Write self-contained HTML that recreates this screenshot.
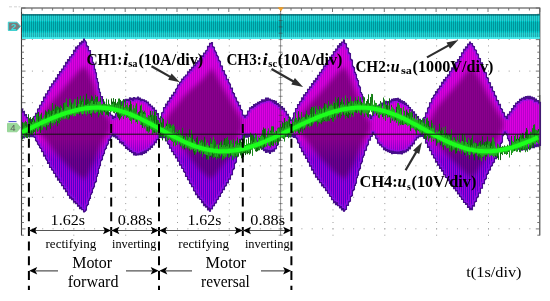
<!DOCTYPE html><html><head><meta charset="utf-8"><style>html,body{margin:0;padding:0;background:#fff;}svg{display:block;}.b{font-family:"Liberation Serif","Times New Roman",serif;font-weight:bold;fill:#000;}.r{font-family:"Liberation Serif","Times New Roman",serif;fill:#000;}</style></head><body><svg width="550" height="301" viewBox="0 0 550 301"><defs><pattern id="mg" width="2" height="4" patternUnits="userSpaceOnUse"><rect width="2" height="4" fill="#de00e0"/><rect x="1" width="1" height="4" fill="#b800cc"/></pattern><pattern id="cy" width="2" height="4" patternUnits="userSpaceOnUse"><rect width="2" height="4" fill="#06d2d2"/><rect x="1" width="1" height="4" fill="#00a0a6"/></pattern></defs><rect width="550" height="301" fill="#fff"/><path d="M73.3 14.3h1M73.3 20.6h1M73.3 26.9h1M73.3 33.2h1M73.3 39.6h1M73.3 45.9h1M73.3 52.2h1M73.3 58.5h1M73.3 64.8h1M73.3 71.1h1M73.3 77.4h1M73.3 83.7h1M73.3 90.0h1M73.3 96.3h1M73.3 102.7h1M73.3 109.0h1M73.3 115.3h1M73.3 121.6h1M73.3 127.9h1M73.3 134.2h1M73.3 140.5h1M73.3 146.8h1M73.3 153.1h1M73.3 159.4h1M73.3 165.8h1M73.3 172.1h1M73.3 178.4h1M73.3 184.7h1M73.3 191.0h1M73.3 197.3h1M73.3 203.6h1M73.3 209.9h1M73.3 216.2h1M73.3 222.5h1M73.3 228.9h1M73.3 235.2h1M125.2 14.3h1M125.2 20.6h1M125.2 26.9h1M125.2 33.2h1M125.2 39.6h1M125.2 45.9h1M125.2 52.2h1M125.2 58.5h1M125.2 64.8h1M125.2 71.1h1M125.2 77.4h1M125.2 83.7h1M125.2 90.0h1M125.2 96.3h1M125.2 102.7h1M125.2 109.0h1M125.2 115.3h1M125.2 121.6h1M125.2 127.9h1M125.2 134.2h1M125.2 140.5h1M125.2 146.8h1M125.2 153.1h1M125.2 159.4h1M125.2 165.8h1M125.2 172.1h1M125.2 178.4h1M125.2 184.7h1M125.2 191.0h1M125.2 197.3h1M125.2 203.6h1M125.2 209.9h1M125.2 216.2h1M125.2 222.5h1M125.2 228.9h1M125.2 235.2h1M177.0 14.3h1M177.0 20.6h1M177.0 26.9h1M177.0 33.2h1M177.0 39.6h1M177.0 45.9h1M177.0 52.2h1M177.0 58.5h1M177.0 64.8h1M177.0 71.1h1M177.0 77.4h1M177.0 83.7h1M177.0 90.0h1M177.0 96.3h1M177.0 102.7h1M177.0 109.0h1M177.0 115.3h1M177.0 121.6h1M177.0 127.9h1M177.0 134.2h1M177.0 140.5h1M177.0 146.8h1M177.0 153.1h1M177.0 159.4h1M177.0 165.8h1M177.0 172.1h1M177.0 178.4h1M177.0 184.7h1M177.0 191.0h1M177.0 197.3h1M177.0 203.6h1M177.0 209.9h1M177.0 216.2h1M177.0 222.5h1M177.0 228.9h1M177.0 235.2h1M228.8 14.3h1M228.8 20.6h1M228.8 26.9h1M228.8 33.2h1M228.8 39.6h1M228.8 45.9h1M228.8 52.2h1M228.8 58.5h1M228.8 64.8h1M228.8 71.1h1M228.8 77.4h1M228.8 83.7h1M228.8 90.0h1M228.8 96.3h1M228.8 102.7h1M228.8 109.0h1M228.8 115.3h1M228.8 121.6h1M228.8 127.9h1M228.8 134.2h1M228.8 140.5h1M228.8 146.8h1M228.8 153.1h1M228.8 159.4h1M228.8 165.8h1M228.8 172.1h1M228.8 178.4h1M228.8 184.7h1M228.8 191.0h1M228.8 197.3h1M228.8 203.6h1M228.8 209.9h1M228.8 216.2h1M228.8 222.5h1M228.8 228.9h1M228.8 235.2h1M332.5 14.3h1M332.5 20.6h1M332.5 26.9h1M332.5 33.2h1M332.5 39.6h1M332.5 45.9h1M332.5 52.2h1M332.5 58.5h1M332.5 64.8h1M332.5 71.1h1M332.5 77.4h1M332.5 83.7h1M332.5 90.0h1M332.5 96.3h1M332.5 102.7h1M332.5 109.0h1M332.5 115.3h1M332.5 121.6h1M332.5 127.9h1M332.5 134.2h1M332.5 140.5h1M332.5 146.8h1M332.5 153.1h1M332.5 159.4h1M332.5 165.8h1M332.5 172.1h1M332.5 178.4h1M332.5 184.7h1M332.5 191.0h1M332.5 197.3h1M332.5 203.6h1M332.5 209.9h1M332.5 216.2h1M332.5 222.5h1M332.5 228.9h1M332.5 235.2h1M384.3 14.3h1M384.3 20.6h1M384.3 26.9h1M384.3 33.2h1M384.3 39.6h1M384.3 45.9h1M384.3 52.2h1M384.3 58.5h1M384.3 64.8h1M384.3 71.1h1M384.3 77.4h1M384.3 83.7h1M384.3 90.0h1M384.3 96.3h1M384.3 102.7h1M384.3 109.0h1M384.3 115.3h1M384.3 121.6h1M384.3 127.9h1M384.3 134.2h1M384.3 140.5h1M384.3 146.8h1M384.3 153.1h1M384.3 159.4h1M384.3 165.8h1M384.3 172.1h1M384.3 178.4h1M384.3 184.7h1M384.3 191.0h1M384.3 197.3h1M384.3 203.6h1M384.3 209.9h1M384.3 216.2h1M384.3 222.5h1M384.3 228.9h1M384.3 235.2h1M436.1 14.3h1M436.1 20.6h1M436.1 26.9h1M436.1 33.2h1M436.1 39.6h1M436.1 45.9h1M436.1 52.2h1M436.1 58.5h1M436.1 64.8h1M436.1 71.1h1M436.1 77.4h1M436.1 83.7h1M436.1 90.0h1M436.1 96.3h1M436.1 102.7h1M436.1 109.0h1M436.1 115.3h1M436.1 121.6h1M436.1 127.9h1M436.1 134.2h1M436.1 140.5h1M436.1 146.8h1M436.1 153.1h1M436.1 159.4h1M436.1 165.8h1M436.1 172.1h1M436.1 178.4h1M436.1 184.7h1M436.1 191.0h1M436.1 197.3h1M436.1 203.6h1M436.1 209.9h1M436.1 216.2h1M436.1 222.5h1M436.1 228.9h1M436.1 235.2h1M488.0 14.3h1M488.0 20.6h1M488.0 26.9h1M488.0 33.2h1M488.0 39.6h1M488.0 45.9h1M488.0 52.2h1M488.0 58.5h1M488.0 64.8h1M488.0 71.1h1M488.0 77.4h1M488.0 83.7h1M488.0 90.0h1M488.0 96.3h1M488.0 102.7h1M488.0 109.0h1M488.0 115.3h1M488.0 121.6h1M488.0 127.9h1M488.0 134.2h1M488.0 140.5h1M488.0 146.8h1M488.0 153.1h1M488.0 159.4h1M488.0 165.8h1M488.0 172.1h1M488.0 178.4h1M488.0 184.7h1M488.0 191.0h1M488.0 197.3h1M488.0 203.6h1M488.0 209.9h1M488.0 216.2h1M488.0 222.5h1M488.0 228.9h1M488.0 235.2h1M31.9 39.5h1M42.2 39.5h1M52.6 39.5h1M63.0 39.5h1M73.3 39.5h1M83.7 39.5h1M94.1 39.5h1M104.4 39.5h1M114.8 39.5h1M125.2 39.5h1M135.5 39.5h1M145.9 39.5h1M156.3 39.5h1M166.6 39.5h1M177.0 39.5h1M187.4 39.5h1M197.7 39.5h1M208.1 39.5h1M218.5 39.5h1M228.8 39.5h1M239.2 39.5h1M249.6 39.5h1M259.9 39.5h1M270.3 39.5h1M280.6 39.5h1M291.0 39.5h1M301.4 39.5h1M311.7 39.5h1M322.1 39.5h1M332.5 39.5h1M342.8 39.5h1M353.2 39.5h1M363.6 39.5h1M373.9 39.5h1M384.3 39.5h1M394.7 39.5h1M405.0 39.5h1M415.4 39.5h1M425.8 39.5h1M436.1 39.5h1M446.5 39.5h1M456.9 39.5h1M467.2 39.5h1M477.6 39.5h1M488.0 39.5h1M498.3 39.5h1M508.7 39.5h1M519.1 39.5h1M529.4 39.5h1M31.9 71.1h1M42.2 71.1h1M52.6 71.1h1M63.0 71.1h1M73.3 71.1h1M83.7 71.1h1M94.1 71.1h1M104.4 71.1h1M114.8 71.1h1M125.2 71.1h1M135.5 71.1h1M145.9 71.1h1M156.3 71.1h1M166.6 71.1h1M177.0 71.1h1M187.4 71.1h1M197.7 71.1h1M208.1 71.1h1M218.5 71.1h1M228.8 71.1h1M239.2 71.1h1M249.6 71.1h1M259.9 71.1h1M270.3 71.1h1M280.6 71.1h1M291.0 71.1h1M301.4 71.1h1M311.7 71.1h1M322.1 71.1h1M332.5 71.1h1M342.8 71.1h1M353.2 71.1h1M363.6 71.1h1M373.9 71.1h1M384.3 71.1h1M394.7 71.1h1M405.0 71.1h1M415.4 71.1h1M425.8 71.1h1M436.1 71.1h1M446.5 71.1h1M456.9 71.1h1M467.2 71.1h1M477.6 71.1h1M488.0 71.1h1M498.3 71.1h1M508.7 71.1h1M519.1 71.1h1M529.4 71.1h1M31.9 102.7h1M42.2 102.7h1M52.6 102.7h1M63.0 102.7h1M73.3 102.7h1M83.7 102.7h1M94.1 102.7h1M104.4 102.7h1M114.8 102.7h1M125.2 102.7h1M135.5 102.7h1M145.9 102.7h1M156.3 102.7h1M166.6 102.7h1M177.0 102.7h1M187.4 102.7h1M197.7 102.7h1M208.1 102.7h1M218.5 102.7h1M228.8 102.7h1M239.2 102.7h1M249.6 102.7h1M259.9 102.7h1M270.3 102.7h1M280.6 102.7h1M291.0 102.7h1M301.4 102.7h1M311.7 102.7h1M322.1 102.7h1M332.5 102.7h1M342.8 102.7h1M353.2 102.7h1M363.6 102.7h1M373.9 102.7h1M384.3 102.7h1M394.7 102.7h1M405.0 102.7h1M415.4 102.7h1M425.8 102.7h1M436.1 102.7h1M446.5 102.7h1M456.9 102.7h1M467.2 102.7h1M477.6 102.7h1M488.0 102.7h1M498.3 102.7h1M508.7 102.7h1M519.1 102.7h1M529.4 102.7h1M31.9 165.8h1M42.2 165.8h1M52.6 165.8h1M63.0 165.8h1M73.3 165.8h1M83.7 165.8h1M94.1 165.8h1M104.4 165.8h1M114.8 165.8h1M125.2 165.8h1M135.5 165.8h1M145.9 165.8h1M156.3 165.8h1M166.6 165.8h1M177.0 165.8h1M187.4 165.8h1M197.7 165.8h1M208.1 165.8h1M218.5 165.8h1M228.8 165.8h1M239.2 165.8h1M249.6 165.8h1M259.9 165.8h1M270.3 165.8h1M280.6 165.8h1M291.0 165.8h1M301.4 165.8h1M311.7 165.8h1M322.1 165.8h1M332.5 165.8h1M342.8 165.8h1M353.2 165.8h1M363.6 165.8h1M373.9 165.8h1M384.3 165.8h1M394.7 165.8h1M405.0 165.8h1M415.4 165.8h1M425.8 165.8h1M436.1 165.8h1M446.5 165.8h1M456.9 165.8h1M467.2 165.8h1M477.6 165.8h1M488.0 165.8h1M498.3 165.8h1M508.7 165.8h1M519.1 165.8h1M529.4 165.8h1M31.9 197.3h1M42.2 197.3h1M52.6 197.3h1M63.0 197.3h1M73.3 197.3h1M83.7 197.3h1M94.1 197.3h1M104.4 197.3h1M114.8 197.3h1M125.2 197.3h1M135.5 197.3h1M145.9 197.3h1M156.3 197.3h1M166.6 197.3h1M177.0 197.3h1M187.4 197.3h1M197.7 197.3h1M208.1 197.3h1M218.5 197.3h1M228.8 197.3h1M239.2 197.3h1M249.6 197.3h1M259.9 197.3h1M270.3 197.3h1M280.6 197.3h1M291.0 197.3h1M301.4 197.3h1M311.7 197.3h1M322.1 197.3h1M332.5 197.3h1M342.8 197.3h1M353.2 197.3h1M363.6 197.3h1M373.9 197.3h1M384.3 197.3h1M394.7 197.3h1M405.0 197.3h1M415.4 197.3h1M425.8 197.3h1M436.1 197.3h1M446.5 197.3h1M456.9 197.3h1M467.2 197.3h1M477.6 197.3h1M488.0 197.3h1M498.3 197.3h1M508.7 197.3h1M519.1 197.3h1M529.4 197.3h1M31.9 228.8h1M42.2 228.8h1M52.6 228.8h1M63.0 228.8h1M73.3 228.8h1M83.7 228.8h1M94.1 228.8h1M104.4 228.8h1M114.8 228.8h1M125.2 228.8h1M135.5 228.8h1M145.9 228.8h1M156.3 228.8h1M166.6 228.8h1M177.0 228.8h1M187.4 228.8h1M197.7 228.8h1M208.1 228.8h1M218.5 228.8h1M228.8 228.8h1M239.2 228.8h1M249.6 228.8h1M259.9 228.8h1M270.3 228.8h1M280.6 228.8h1M291.0 228.8h1M301.4 228.8h1M311.7 228.8h1M322.1 228.8h1M332.5 228.8h1M342.8 228.8h1M353.2 228.8h1M363.6 228.8h1M373.9 228.8h1M384.3 228.8h1M394.7 228.8h1M405.0 228.8h1M415.4 228.8h1M425.8 228.8h1M436.1 228.8h1M446.5 228.8h1M456.9 228.8h1M467.2 228.8h1M477.6 228.8h1M488.0 228.8h1M498.3 228.8h1M508.7 228.8h1M519.1 228.8h1M529.4 228.8h1" stroke="#9a9a9a" stroke-width="1" fill="none"/><path d="M21.5 235.5V8.0H539.8V235.5" stroke="#3c3c3c" stroke-width="1.1" fill="none"/><path d="M21.5 8.0h4M539.8 8.0h-4M21.5 14.3h2.5M539.8 14.3h-2.5M21.5 20.6h2.5M539.8 20.6h-2.5M21.5 26.9h2.5M539.8 26.9h-2.5M21.5 33.2h2.5M539.8 33.2h-2.5M21.5 39.6h4M539.8 39.6h-4M21.5 45.9h2.5M539.8 45.9h-2.5M21.5 52.2h2.5M539.8 52.2h-2.5M21.5 58.5h2.5M539.8 58.5h-2.5M21.5 64.8h2.5M539.8 64.8h-2.5M21.5 71.1h4M539.8 71.1h-4M21.5 77.4h2.5M539.8 77.4h-2.5M21.5 83.7h2.5M539.8 83.7h-2.5M21.5 90.0h2.5M539.8 90.0h-2.5M21.5 96.3h2.5M539.8 96.3h-2.5M21.5 102.7h4M539.8 102.7h-4M21.5 109.0h2.5M539.8 109.0h-2.5M21.5 115.3h2.5M539.8 115.3h-2.5M21.5 121.6h2.5M539.8 121.6h-2.5M21.5 127.9h2.5M539.8 127.9h-2.5M21.5 134.2h4M539.8 134.2h-4M21.5 140.5h2.5M539.8 140.5h-2.5M21.5 146.8h2.5M539.8 146.8h-2.5M21.5 153.1h2.5M539.8 153.1h-2.5M21.5 159.4h2.5M539.8 159.4h-2.5M21.5 165.8h4M539.8 165.8h-4M21.5 172.1h2.5M539.8 172.1h-2.5M21.5 178.4h2.5M539.8 178.4h-2.5M21.5 184.7h2.5M539.8 184.7h-2.5M21.5 191.0h2.5M539.8 191.0h-2.5M21.5 197.3h4M539.8 197.3h-4M21.5 203.6h2.5M539.8 203.6h-2.5M21.5 209.9h2.5M539.8 209.9h-2.5M21.5 216.2h2.5M539.8 216.2h-2.5M21.5 222.5h2.5M539.8 222.5h-2.5M21.5 228.9h4M539.8 228.9h-4M21.5 235.2h2.5M539.8 235.2h-2.5M21.5 8.0v4M31.9 8.0v2.5M42.2 8.0v2.5M52.6 8.0v2.5M63.0 8.0v2.5M73.3 8.0v4M83.7 8.0v2.5M94.1 8.0v2.5M104.4 8.0v2.5M114.8 8.0v2.5M125.2 8.0v4M135.5 8.0v2.5M145.9 8.0v2.5M156.3 8.0v2.5M166.6 8.0v2.5M177.0 8.0v4M187.4 8.0v2.5M197.7 8.0v2.5M208.1 8.0v2.5M218.5 8.0v2.5M228.8 8.0v4M239.2 8.0v2.5M249.6 8.0v2.5M259.9 8.0v2.5M270.3 8.0v2.5M280.6 8.0v4M291.0 8.0v2.5M301.4 8.0v2.5M311.7 8.0v2.5M322.1 8.0v2.5M332.5 8.0v4M342.8 8.0v2.5M353.2 8.0v2.5M363.6 8.0v2.5M373.9 8.0v2.5M384.3 8.0v4M394.7 8.0v2.5M405.0 8.0v2.5M415.4 8.0v2.5M425.8 8.0v2.5M436.1 8.0v4M446.5 8.0v2.5M456.9 8.0v2.5M467.2 8.0v2.5M477.6 8.0v2.5M488.0 8.0v4M498.3 8.0v2.5M508.7 8.0v2.5M519.1 8.0v2.5M529.4 8.0v2.5M539.8 8.0v4" stroke="#666" stroke-width="0.9" fill="none"/><rect x="22.0" y="14.3" width="517.8" height="24.4" fill="url(#cy)"/><rect x="22.0" y="15.5" width="517.8" height="5.5" fill="#fff" fill-opacity="0.10"/><rect x="22.0" y="22" width="517.8" height="9" fill="#003030" fill-opacity="0.10"/><rect x="22.0" y="32.5" width="517.8" height="5.5" fill="#fff" fill-opacity="0.12"/><path d="M22.0 14.8H539.8" stroke="#0b5e66" stroke-width="1.2"/><path d="M22.0 38H539.8" stroke="#4ef0f0" stroke-width="1.4"/><path d="M9 6.8h3M14 6.8h3M18.5 6.8h2" stroke="#c8c8c8" stroke-width="0.8"/><defs><pattern id="vi" width="2" height="4" patternUnits="userSpaceOnUse"><rect width="2" height="4" fill="#a800d8"/><rect x="1" width="1" height="4" fill="#5200cc"/></pattern><polygon id="env" points="21.5,109.1 22.5,109.1 22.5,112.2 23.5,112.2 23.5,111.3 24.5,111.3 24.5,115.1 25.5,115.1 25.5,114.6 26.5,114.6 26.5,117.6 27.5,117.6 27.5,117.5 28.5,117.5 28.5,120.2 29.5,120.2 29.5,118.8 30.5,118.8 30.5,120.4 31.5,120.4 31.5,119.5 32.5,119.5 32.5,119.6 33.5,119.6 33.5,116.7 34.5,116.7 34.5,116.2 35.5,116.2 35.5,113.2 36.5,113.2 36.5,114 37.5,114 37.5,109 38.5,109 38.5,108.7 39.5,108.7 39.5,105.2 40.5,105.2 40.5,105 41.5,105 41.5,101.6 42.5,101.6 42.5,101.5 43.5,101.5 43.5,97 44.5,97 44.5,97.6 45.5,97.6 45.5,93.9 46.5,93.9 46.5,94 47.5,94 47.5,90.8 48.5,90.8 48.5,90.4 49.5,90.4 49.5,86.9 50.5,86.9 50.5,86.7 51.5,86.7 51.5,83.8 52.5,83.8 52.5,84 53.5,84 53.5,80.9 54.5,80.9 54.5,81.1 55.5,81.1 55.5,78.1 56.5,78.1 56.5,78.6 57.5,78.6 57.5,74.5 58.5,74.5 58.5,74.9 59.5,74.9 59.5,71.6 60.5,71.6 60.5,72 61.5,72 61.5,69.1 62.5,69.1 62.5,69.3 63.5,69.3 63.5,65.9 64.5,65.9 64.5,66.3 65.5,66.3 65.5,62.3 66.5,62.3 66.5,63.2 67.5,63.2 67.5,59.6 68.5,59.6 68.5,60.6 69.5,60.6 69.5,56.7 70.5,56.7 70.5,57 71.5,57 71.5,54.6 72.5,54.6 72.5,54.6 73.5,54.6 73.5,50.4 74.5,50.4 74.5,51.1 75.5,51.1 75.5,47.1 76.5,47.1 76.5,48.3 77.5,48.3 77.5,45.8 78.5,45.8 78.5,45.8 79.5,45.8 79.5,42.7 80.5,42.7 80.5,44 81.5,44 81.5,41.3 82.5,41.3 82.5,42.1 83.5,42.1 83.5,39 84.5,39 84.5,40.7 85.5,40.7 85.5,42 86.5,42 86.5,45.9 87.5,45.9 87.5,46.6 88.5,46.6 88.5,50.8 89.5,50.8 89.5,50.6 90.5,50.6 90.5,56.3 91.5,56.3 91.5,57.2 92.5,57.2 92.5,62.3 93.5,62.3 93.5,64 94.5,64 94.5,69.2 95.5,69.2 95.5,72.8 96.5,72.8 96.5,78.6 97.5,78.6 97.5,82.3 98.5,82.3 98.5,88.9 99.5,88.9 99.5,92.4 100.5,92.4 100.5,96.8 101.5,96.8 101.5,96.5 102.5,96.5 102.5,100.9 103.5,100.9 103.5,102.1 104.5,102.1 104.5,105.3 105.5,105.3 105.5,106.2 106.5,106.2 106.5,109.6 107.5,109.6 107.5,109.1 108.5,109.1 108.5,112.8 109.5,112.8 109.5,112.9 110.5,112.9 110.5,115 111.5,115 111.5,115.4 112.5,115.4 112.5,118.4 113.5,118.4 113.5,116.2 114.5,116.2 114.5,117.5 115.5,117.5 115.5,113.8 116.5,113.8 116.5,112.9 117.5,112.9 117.5,108.3 118.5,108.3 118.5,107.4 119.5,107.4 119.5,103.9 120.5,103.9 120.5,103.9 121.5,103.9 121.5,101.8 122.5,101.8 122.5,102.9 123.5,102.9 123.5,99.8 124.5,99.8 124.5,101.6 125.5,101.6 125.5,99.3 126.5,99.3 126.5,100.5 127.5,100.5 127.5,99.3 128.5,99.3 128.5,100.8 129.5,100.8 129.5,97.9 130.5,97.9 130.5,99.5 131.5,99.5 131.5,98.3 132.5,98.3 132.5,100.1 133.5,100.1 133.5,97.5 134.5,97.5 134.5,99 135.5,99 135.5,98 136.5,98 136.5,98.9 137.5,98.9 137.5,97.1 138.5,97.1 138.5,99.4 139.5,99.4 139.5,98.1 140.5,98.1 140.5,100.7 141.5,100.7 141.5,99.3 142.5,99.3 142.5,100.4 143.5,100.4 143.5,99.8 144.5,99.8 144.5,101.4 145.5,101.4 145.5,100.7 146.5,100.7 146.5,102.7 147.5,102.7 147.5,102 148.5,102 148.5,105 149.5,105 149.5,104.2 150.5,104.2 150.5,106.2 151.5,106.2 151.5,106 152.5,106 152.5,108.8 153.5,108.8 153.5,107.9 154.5,107.9 154.5,110.5 155.5,110.5 155.5,110.3 156.5,110.3 156.5,114.1 157.5,114.1 157.5,113.5 158.5,113.5 158.5,118.2 159.5,118.2 159.5,118.6 160.5,118.6 160.5,117.4 161.5,117.4 161.5,112.7 162.5,112.7 162.5,112.2 163.5,112.2 163.5,107.6 164.5,107.6 164.5,107.7 165.5,107.7 165.5,104.1 166.5,104.1 166.5,105 167.5,105 167.5,101.4 168.5,101.4 168.5,101.1 169.5,101.1 169.5,97.7 170.5,97.7 170.5,98.4 171.5,98.4 171.5,95 172.5,95 172.5,95.4 173.5,95.4 173.5,92.4 174.5,92.4 174.5,92.7 175.5,92.7 175.5,89.2 176.5,89.2 176.5,88.3 177.5,88.3 177.5,85 178.5,85 178.5,84.8 179.5,84.8 179.5,82.5 180.5,82.5 180.5,81.9 181.5,81.9 181.5,79.1 182.5,79.1 182.5,79.5 183.5,79.5 183.5,77 184.5,77 184.5,76.8 185.5,76.8 185.5,75 186.5,75 186.5,75 187.5,75 187.5,71.8 188.5,71.8 188.5,72.3 189.5,72.3 189.5,69.5 190.5,69.5 190.5,70.3 191.5,70.3 191.5,67.2 192.5,67.2 192.5,67.8 193.5,67.8 193.5,65.5 194.5,65.5 194.5,65.8 195.5,65.8 195.5,62.6 196.5,62.6 196.5,63.3 197.5,63.3 197.5,60.9 198.5,60.9 198.5,61.2 199.5,61.2 199.5,58.2 200.5,58.2 200.5,59.1 201.5,59.1 201.5,55.8 202.5,55.8 202.5,56.4 203.5,56.4 203.5,53 204.5,53 204.5,53.3 205.5,53.3 205.5,50.7 206.5,50.7 206.5,50.3 207.5,50.3 207.5,46.3 208.5,46.3 208.5,46.6 209.5,46.6 209.5,43.2 210.5,43.2 210.5,43.7 211.5,43.7 211.5,42.6 212.5,42.6 212.5,46.8 213.5,46.8 213.5,47.3 214.5,47.3 214.5,50.9 215.5,50.9 215.5,52.2 216.5,52.2 216.5,55.4 217.5,55.4 217.5,56.8 218.5,56.8 218.5,60.4 219.5,60.4 219.5,61.3 220.5,61.3 220.5,65.9 221.5,65.9 221.5,66 222.5,66 222.5,70.6 223.5,70.6 223.5,70.7 224.5,70.7 224.5,74.2 225.5,74.2 225.5,75.2 226.5,75.2 226.5,79.3 227.5,79.3 227.5,79.2 228.5,79.2 228.5,82.7 229.5,82.7 229.5,84 230.5,84 230.5,88.3 231.5,88.3 231.5,88.1 232.5,88.1 232.5,92.6 233.5,92.6 233.5,93.6 234.5,93.6 234.5,97 235.5,97 235.5,97.9 236.5,97.9 236.5,101.3 237.5,101.3 237.5,102.1 238.5,102.1 238.5,105.7 239.5,105.7 239.5,105.4 240.5,105.4 240.5,109.5 241.5,109.5 241.5,110.2 242.5,110.2 242.5,115 243.5,115 243.5,115.4 244.5,115.4 244.5,117.3 245.5,117.3 245.5,115.4 246.5,115.4 246.5,115 247.5,115 247.5,111 248.5,111 248.5,111 249.5,111 249.5,107.7 250.5,107.7 250.5,108.3 251.5,108.3 251.5,106.5 252.5,106.5 252.5,107.6 253.5,107.6 253.5,104.6 254.5,104.6 254.5,106.1 255.5,106.1 255.5,103.8 256.5,103.8 256.5,104.8 257.5,104.8 257.5,102.2 258.5,102.2 258.5,103.6 259.5,103.6 259.5,101.5 260.5,101.5 260.5,102.2 261.5,102.2 261.5,99.7 262.5,99.7 262.5,101.7 263.5,101.7 263.5,99.9 264.5,99.9 264.5,101.3 265.5,101.3 265.5,98.1 266.5,98.1 266.5,100.5 267.5,100.5 267.5,98.1 268.5,98.1 268.5,100.3 269.5,100.3 269.5,99.1 270.5,99.1 270.5,100.6 271.5,100.6 271.5,100 272.5,100 272.5,102 273.5,102 273.5,100.5 274.5,100.5 274.5,103.4 275.5,103.4 275.5,101.2 276.5,101.2 276.5,104.4 277.5,104.4 277.5,103.5 278.5,103.5 278.5,106.3 279.5,106.3 279.5,104.7 280.5,104.7 280.5,107.6 281.5,107.6 281.5,106.5 282.5,106.5 282.5,109.2 283.5,109.2 283.5,108.3 284.5,108.3 284.5,111.3 285.5,111.3 285.5,111.2 286.5,111.2 286.5,115 287.5,115 287.5,114.2 288.5,114.2 288.5,117.8 289.5,117.8 289.5,117.7 290.5,117.7 290.5,120.4 291.5,120.4 291.5,119.7 292.5,119.7 292.5,118 293.5,118 293.5,113 294.5,113 294.5,112.7 295.5,112.7 295.5,108.5 296.5,108.5 296.5,108.5 297.5,108.5 297.5,104.6 298.5,104.6 298.5,104.6 299.5,104.6 299.5,101.7 300.5,101.7 300.5,101.4 301.5,101.4 301.5,97.9 302.5,97.9 302.5,99.1 303.5,99.1 303.5,94.7 304.5,94.7 304.5,95.1 305.5,95.1 305.5,92.6 306.5,92.6 306.5,92.6 307.5,92.6 307.5,89.3 308.5,89.3 308.5,89.4 309.5,89.4 309.5,86.9 310.5,86.9 310.5,87.1 311.5,87.1 311.5,83.6 312.5,83.6 312.5,84.1 313.5,84.1 313.5,80.8 314.5,80.8 314.5,81.8 315.5,81.8 315.5,78.2 316.5,78.2 316.5,79.1 317.5,79.1 317.5,75.2 318.5,75.2 318.5,75.4 319.5,75.4 319.5,72.3 320.5,72.3 320.5,72.5 321.5,72.5 321.5,69.8 322.5,69.8 322.5,69.3 323.5,69.3 323.5,65.9 324.5,65.9 324.5,66.2 325.5,66.2 325.5,63.5 326.5,63.5 326.5,63.5 327.5,63.5 327.5,60.7 328.5,60.7 328.5,60.3 329.5,60.3 329.5,57.1 330.5,57.1 330.5,58 331.5,58 331.5,55 332.5,55 332.5,54.9 333.5,54.9 333.5,51.6 334.5,51.6 334.5,51.8 335.5,51.8 335.5,49 336.5,49 336.5,49.9 337.5,49.9 337.5,45.8 338.5,45.8 338.5,47.3 339.5,47.3 339.5,43.6 340.5,43.6 340.5,45.1 341.5,45.1 341.5,42 342.5,42 342.5,42.2 343.5,42.2 343.5,40.1 344.5,40.1 344.5,43.4 345.5,43.4 345.5,43.7 346.5,43.7 346.5,47.8 347.5,47.8 347.5,48.3 348.5,48.3 348.5,52.9 349.5,52.9 349.5,53.6 350.5,53.6 350.5,59.2 351.5,59.2 351.5,60.1 352.5,60.1 352.5,66.2 353.5,66.2 353.5,67.6 354.5,67.6 354.5,72.4 355.5,72.4 355.5,74.2 356.5,74.2 356.5,78.8 357.5,78.8 357.5,80.5 358.5,80.5 358.5,85.8 359.5,85.8 359.5,87 360.5,87 360.5,92.5 361.5,92.5 361.5,94.3 362.5,94.3 362.5,99.1 363.5,99.1 363.5,99.7 364.5,99.7 364.5,104.4 365.5,104.4 365.5,106.2 366.5,106.2 366.5,109.9 367.5,109.9 367.5,110.6 368.5,110.6 368.5,115 369.5,115 369.5,114.7 370.5,114.7 370.5,118.4 371.5,118.4 371.5,115.9 372.5,115.9 372.5,115.5 373.5,115.5 373.5,111.3 374.5,111.3 374.5,111.8 375.5,111.8 375.5,107.6 376.5,107.6 376.5,108.7 377.5,108.7 377.5,105.8 378.5,105.8 378.5,106.2 379.5,106.2 379.5,104.2 380.5,104.2 380.5,105.6 381.5,105.6 381.5,103 382.5,103 382.5,105.1 383.5,105.1 383.5,102.3 384.5,102.3 384.5,104 385.5,104 385.5,101.2 386.5,101.2 386.5,102.8 387.5,102.8 387.5,101.5 388.5,101.5 388.5,102.7 389.5,102.7 389.5,100.9 390.5,100.9 390.5,102 391.5,102 391.5,99.3 392.5,99.3 392.5,100.6 393.5,100.6 393.5,98.8 394.5,98.8 394.5,100.4 395.5,100.4 395.5,98.6 396.5,98.6 396.5,100.2 397.5,100.2 397.5,98.3 398.5,98.3 398.5,101.4 399.5,101.4 399.5,99.2 400.5,99.2 400.5,102.2 401.5,102.2 401.5,100.7 402.5,100.7 402.5,103.1 403.5,103.1 403.5,101.5 404.5,101.5 404.5,104.4 405.5,104.4 405.5,103.2 406.5,103.2 406.5,105.4 407.5,105.4 407.5,105.2 408.5,105.2 408.5,107.4 409.5,107.4 409.5,107.5 410.5,107.5 410.5,110 411.5,110 411.5,109.7 412.5,109.7 412.5,112.8 413.5,112.8 413.5,111.8 414.5,111.8 414.5,114.9 415.5,114.9 415.5,114.4 416.5,114.4 416.5,117.4 417.5,117.4 417.5,116.6 418.5,116.6 418.5,120.1 419.5,120.1 419.5,119.4 420.5,119.4 420.5,121.9 421.5,121.9 421.5,121.2 422.5,121.2 422.5,122.5 423.5,122.5 423.5,117.8 424.5,117.8 424.5,117.4 425.5,117.4 425.5,112.8 426.5,112.8 426.5,112.9 427.5,112.9 427.5,108 428.5,108 428.5,107.2 429.5,107.2 429.5,102.8 430.5,102.8 430.5,102.8 431.5,102.8 431.5,98.5 432.5,98.5 432.5,97.9 433.5,97.9 433.5,95.4 434.5,95.4 434.5,94.7 435.5,94.7 435.5,91.5 436.5,91.5 436.5,92.7 437.5,92.7 437.5,89.2 438.5,89.2 438.5,88.8 439.5,88.8 439.5,86.1 440.5,86.1 440.5,86.5 441.5,86.5 441.5,82.4 442.5,82.4 442.5,83.2 443.5,83.2 443.5,79.6 444.5,79.6 444.5,80.8 445.5,80.8 445.5,77.2 446.5,77.2 446.5,77.3 447.5,77.3 447.5,74.9 448.5,74.9 448.5,75.1 449.5,75.1 449.5,71.3 450.5,71.3 450.5,71.3 451.5,71.3 451.5,67.9 452.5,67.9 452.5,69.2 453.5,69.2 453.5,65.4 454.5,65.4 454.5,65.4 455.5,65.4 455.5,62.3 456.5,62.3 456.5,62.4 457.5,62.4 457.5,59.6 458.5,59.6 458.5,60 459.5,60 459.5,56.5 460.5,56.5 460.5,56.7 461.5,56.7 461.5,52.7 462.5,52.7 462.5,52.9 463.5,52.9 463.5,49.4 464.5,49.4 464.5,50 465.5,50 465.5,46.9 466.5,46.9 466.5,47.7 467.5,47.7 467.5,44.1 468.5,44.1 468.5,44.7 469.5,44.7 469.5,42 470.5,42 470.5,43.8 471.5,43.8 471.5,43.5 472.5,43.5 472.5,46 473.5,46 473.5,46.6 474.5,46.6 474.5,49.8 475.5,49.8 475.5,50.3 476.5,50.3 476.5,53.8 477.5,53.8 477.5,54.2 478.5,54.2 478.5,58.3 479.5,58.3 479.5,58.5 480.5,58.5 480.5,63.2 481.5,63.2 481.5,62.8 482.5,62.8 482.5,66.9 483.5,66.9 483.5,68.4 484.5,68.4 484.5,72.4 485.5,72.4 485.5,72.8 486.5,72.8 486.5,77.5 487.5,77.5 487.5,78.5 488.5,78.5 488.5,82.6 489.5,82.6 489.5,82.7 490.5,82.7 490.5,87.4 491.5,87.4 491.5,86.8 492.5,86.8 492.5,91 493.5,91 493.5,91.5 494.5,91.5 494.5,95.4 495.5,95.4 495.5,96.1 496.5,96.1 496.5,100.4 497.5,100.4 497.5,100.6 498.5,100.6 498.5,104.7 499.5,104.7 499.5,104.4 500.5,104.4 500.5,108.5 501.5,108.5 501.5,109.3 502.5,109.3 502.5,112.4 503.5,112.4 503.5,112.8 504.5,112.8 504.5,116.6 505.5,116.6 505.5,116.3 506.5,116.3 506.5,118.5 507.5,118.5 507.5,114.4 508.5,114.4 508.5,114.6 509.5,114.6 509.5,111.7 510.5,111.7 510.5,111.9 511.5,111.9 511.5,108.6 512.5,108.6 512.5,109.3 513.5,109.3 513.5,105.6 514.5,105.6 514.5,106.6 515.5,106.6 515.5,103 516.5,103 516.5,103.5 517.5,103.5 517.5,101.5 518.5,101.5 518.5,102.2 519.5,102.2 519.5,99.3 520.5,99.3 520.5,100.4 521.5,100.4 521.5,98.4 522.5,98.4 522.5,99 523.5,99 523.5,97.2 524.5,97.2 524.5,99.1 525.5,99.1 525.5,96.6 526.5,96.6 526.5,98.2 527.5,98.2 527.5,96.4 528.5,96.4 528.5,98.6 529.5,98.6 529.5,96.3 530.5,96.3 530.5,98.8 531.5,98.8 531.5,97.1 532.5,97.1 532.5,99.2 533.5,99.2 533.5,97.7 534.5,97.7 534.5,101.1 535.5,101.1 535.5,99.1 536.5,99.1 536.5,101.3 537.5,101.3 537.5,100.6 538.5,100.6 538.5,103 539.5,103 539.5,102.3 540.5,102.3 540.5,145.4 539.5,145.4 539.5,144.1 538.5,144.1 538.5,146.2 537.5,146.2 537.5,144.7 536.5,144.7 536.5,146.7 535.5,146.7 535.5,145 534.5,145 534.5,147.6 533.5,147.6 533.5,145.9 532.5,145.9 532.5,147.8 531.5,147.8 531.5,147.1 530.5,147.1 530.5,149 529.5,149 529.5,147.3 528.5,147.3 528.5,148.6 527.5,148.6 527.5,147.4 526.5,147.4 526.5,150 525.5,150 525.5,147.3 524.5,147.3 524.5,149.6 523.5,149.6 523.5,147.3 522.5,147.3 522.5,150.1 521.5,150.1 521.5,147.2 520.5,147.2 520.5,149 519.5,149 519.5,147.2 518.5,147.2 518.5,149.2 517.5,149.2 517.5,147.3 516.5,147.3 516.5,149.3 515.5,149.3 515.5,147.6 514.5,147.6 514.5,149 513.5,149 513.5,147.1 512.5,147.1 512.5,148 511.5,148 511.5,145.5 510.5,145.5 510.5,146.4 509.5,146.4 509.5,140.6 508.5,140.6 508.5,138.7 507.5,138.7 507.5,135 506.5,135 506.5,133.6 505.5,133.6 505.5,132 504.5,132 504.5,134.4 503.5,134.4 503.5,135.6 502.5,135.6 502.5,142.3 501.5,142.3 501.5,143.4 500.5,143.4 500.5,149.4 499.5,149.4 499.5,149.8 498.5,149.8 498.5,154.1 497.5,154.1 497.5,154.8 496.5,154.8 496.5,158.6 495.5,158.6 495.5,158.4 494.5,158.4 494.5,162.2 493.5,162.2 493.5,162.9 492.5,162.9 492.5,165.6 491.5,165.6 491.5,166.2 490.5,166.2 490.5,169.9 489.5,169.9 489.5,170.2 488.5,170.2 488.5,173.4 487.5,173.4 487.5,174.4 486.5,174.4 486.5,178.8 485.5,178.8 485.5,179.6 484.5,179.6 484.5,183.8 483.5,183.8 483.5,183.6 482.5,183.6 482.5,188.3 481.5,188.3 481.5,188.2 480.5,188.2 480.5,193.2 479.5,193.2 479.5,193.1 478.5,193.1 478.5,196.8 477.5,196.8 477.5,197.8 476.5,197.8 476.5,201.4 475.5,201.4 475.5,202 474.5,202 474.5,206.1 473.5,206.1 473.5,205.6 472.5,205.6 472.5,209.8 471.5,209.8 471.5,208.4 470.5,208.4 470.5,209.6 469.5,209.6 469.5,206.8 468.5,206.8 468.5,207.5 467.5,207.5 467.5,203.9 466.5,203.9 466.5,204.5 465.5,204.5 465.5,202.5 464.5,202.5 464.5,202.5 463.5,202.5 463.5,199.2 462.5,199.2 462.5,199.5 461.5,199.5 461.5,196.9 460.5,196.9 460.5,196.4 459.5,196.4 459.5,193.3 458.5,193.3 458.5,193.9 457.5,193.9 457.5,190.5 456.5,190.5 456.5,190.9 455.5,190.9 455.5,187.7 454.5,187.7 454.5,188.6 453.5,188.6 453.5,185.2 452.5,185.2 452.5,185.7 451.5,185.7 451.5,182.6 450.5,182.6 450.5,183.5 449.5,183.5 449.5,179.5 448.5,179.5 448.5,180.8 447.5,180.8 447.5,177.7 446.5,177.7 446.5,177.5 445.5,177.5 445.5,174.7 444.5,174.7 444.5,175 443.5,175 443.5,170.6 442.5,170.6 442.5,171.1 441.5,171.1 441.5,167.8 440.5,167.8 440.5,168.4 439.5,168.4 439.5,164.9 438.5,164.9 438.5,165.2 437.5,165.2 437.5,161.6 436.5,161.6 436.5,162.1 435.5,162.1 435.5,158.3 434.5,158.3 434.5,157.9 433.5,157.9 433.5,154.8 432.5,154.8 432.5,154.7 431.5,154.7 431.5,150.6 430.5,150.6 430.5,150.7 429.5,150.7 429.5,146.9 428.5,146.9 428.5,147.5 427.5,147.5 427.5,142.9 426.5,142.9 426.5,143.1 425.5,143.1 425.5,138.4 424.5,138.4 424.5,138.1 423.5,138.1 423.5,135 422.5,135 422.5,136.4 421.5,136.4 421.5,134.4 420.5,134.4 420.5,136.7 419.5,136.7 419.5,136 418.5,136 418.5,137.9 417.5,137.9 417.5,137.3 416.5,137.3 416.5,139.9 415.5,139.9 415.5,140.2 414.5,140.2 414.5,143.9 413.5,143.9 413.5,143.3 412.5,143.3 412.5,146 411.5,146 411.5,145.5 410.5,145.5 410.5,149 409.5,149 409.5,147.3 408.5,147.3 408.5,150.6 407.5,150.6 407.5,149.5 406.5,149.5 406.5,152 405.5,152 405.5,151 404.5,151 404.5,152.7 403.5,152.7 403.5,151.1 402.5,151.1 402.5,153.9 401.5,153.9 401.5,151.6 400.5,151.6 400.5,153.7 399.5,153.7 399.5,152.1 398.5,152.1 398.5,153.7 397.5,153.7 397.5,152 396.5,152 396.5,153.4 395.5,153.4 395.5,151.8 394.5,151.8 394.5,153.5 393.5,153.5 393.5,151.4 392.5,151.4 392.5,153.8 391.5,153.8 391.5,151.1 390.5,151.1 390.5,152.5 389.5,152.5 389.5,150.3 388.5,150.3 388.5,151.8 387.5,151.8 387.5,149.6 386.5,149.6 386.5,150.8 385.5,150.8 385.5,148.1 384.5,148.1 384.5,149.7 383.5,149.7 383.5,147 382.5,147 382.5,147 381.5,147 381.5,144.6 380.5,144.6 380.5,145.2 379.5,145.2 379.5,143 378.5,143 378.5,143.2 377.5,143.2 377.5,138.9 376.5,138.9 376.5,138.2 375.5,138.2 375.5,135 374.5,135 374.5,134.5 373.5,134.5 373.5,132.4 372.5,132.4 372.5,136.2 371.5,136.2 371.5,136.5 370.5,136.5 370.5,140.2 369.5,140.2 369.5,140.1 368.5,140.1 368.5,144.7 367.5,144.7 367.5,146 366.5,146 366.5,150.2 365.5,150.2 365.5,150.6 364.5,150.6 364.5,155.3 363.5,155.3 363.5,157.1 362.5,157.1 362.5,162 361.5,162 361.5,163.6 360.5,163.6 360.5,168.6 359.5,168.6 359.5,170.1 358.5,170.1 358.5,175.2 357.5,175.2 357.5,177.8 356.5,177.8 356.5,183.2 355.5,183.2 355.5,185.4 354.5,185.4 354.5,189.6 353.5,189.6 353.5,190.6 352.5,190.6 352.5,195.8 351.5,195.8 351.5,196.5 350.5,196.5 350.5,201.2 349.5,201.2 349.5,201.9 348.5,201.9 348.5,205.5 347.5,205.5 347.5,205.3 346.5,205.3 346.5,209.5 345.5,209.5 345.5,210 344.5,210 344.5,211.2 343.5,211.2 343.5,208.5 342.5,208.5 342.5,209.9 341.5,209.9 341.5,206.6 340.5,206.6 340.5,207.9 339.5,207.9 339.5,205.7 338.5,205.7 338.5,205.7 337.5,205.7 337.5,202.7 336.5,202.7 336.5,204.7 335.5,204.7 335.5,201.7 334.5,201.7 334.5,202.7 333.5,202.7 333.5,199.7 332.5,199.7 332.5,199.7 331.5,199.7 331.5,196.5 330.5,196.5 330.5,196.3 329.5,196.3 329.5,193.2 328.5,193.2 328.5,193.3 327.5,193.3 327.5,190.2 326.5,190.2 326.5,190.6 325.5,190.6 325.5,187.5 324.5,187.5 324.5,187.8 323.5,187.8 323.5,184.7 322.5,184.7 322.5,185.9 321.5,185.9 321.5,182.6 320.5,182.6 320.5,182.8 319.5,182.8 319.5,179.4 318.5,179.4 318.5,179.8 317.5,179.8 317.5,176.8 316.5,176.8 316.5,177.2 315.5,177.2 315.5,173.3 314.5,173.3 314.5,173.6 313.5,173.6 313.5,169.6 312.5,169.6 312.5,170.1 311.5,170.1 311.5,165.8 310.5,165.8 310.5,166.3 309.5,166.3 309.5,162.2 308.5,162.2 308.5,161.9 307.5,161.9 307.5,158.1 306.5,158.1 306.5,158.4 305.5,158.4 305.5,154.7 304.5,154.7 304.5,154.9 303.5,154.9 303.5,151.2 302.5,151.2 302.5,151.6 301.5,151.6 301.5,147.9 300.5,147.9 300.5,147.5 299.5,147.5 299.5,143.3 298.5,143.3 298.5,142.8 297.5,142.8 297.5,138.9 296.5,138.9 296.5,137.7 295.5,137.7 295.5,135.3 294.5,135.3 294.5,137.4 293.5,137.4 293.5,135 292.5,135 292.5,136.6 291.5,136.6 291.5,134.8 290.5,134.8 290.5,136.7 289.5,136.7 289.5,135.3 288.5,135.3 288.5,136.4 287.5,136.4 287.5,134.5 286.5,134.5 286.5,136.1 285.5,136.1 285.5,134.6 284.5,134.6 284.5,136 283.5,136 283.5,135.2 282.5,135.2 282.5,136.5 281.5,136.5 281.5,136.2 280.5,136.2 280.5,139.9 279.5,139.9 279.5,140.3 278.5,140.3 278.5,144.8 277.5,144.8 277.5,145.5 276.5,145.5 276.5,148.8 275.5,148.8 275.5,148.9 274.5,148.9 274.5,151.3 273.5,151.3 273.5,150.1 272.5,150.1 272.5,151.6 271.5,151.6 271.5,150.9 270.5,150.9 270.5,153.5 269.5,153.5 269.5,150.6 268.5,150.6 268.5,152.1 267.5,152.1 267.5,150.1 266.5,150.1 266.5,152.5 265.5,152.5 265.5,149.7 264.5,149.7 264.5,150.7 263.5,150.7 263.5,148.1 262.5,148.1 262.5,149.1 261.5,149.1 261.5,146.3 260.5,146.3 260.5,147.4 259.5,147.4 259.5,143.8 258.5,143.8 258.5,144.6 257.5,144.6 257.5,141.1 256.5,141.1 256.5,141.7 255.5,141.7 255.5,138.3 254.5,138.3 254.5,138.1 253.5,138.1 253.5,135.2 252.5,135.2 252.5,137 251.5,137 251.5,135.2 250.5,135.2 250.5,136.5 249.5,136.5 249.5,135 248.5,135 248.5,137.3 247.5,137.3 247.5,134.7 246.5,134.7 246.5,137.2 245.5,137.2 245.5,134.5 244.5,134.5 244.5,136.6 243.5,136.6 243.5,135.3 242.5,135.3 242.5,138.7 241.5,138.7 241.5,139.8 240.5,139.8 240.5,145.8 239.5,145.8 239.5,148 238.5,148 238.5,154 237.5,154 237.5,156 236.5,156 236.5,162.3 235.5,162.3 235.5,163.2 234.5,163.2 234.5,168.6 233.5,168.6 233.5,169.8 232.5,169.8 232.5,174.7 231.5,174.7 231.5,175 230.5,175 230.5,179.2 229.5,179.2 229.5,179.1 228.5,179.1 228.5,182.9 227.5,182.9 227.5,182.5 226.5,182.5 226.5,185.6 225.5,185.6 225.5,186.2 224.5,186.2 224.5,189.8 223.5,189.8 223.5,189.2 222.5,189.2 222.5,192.5 221.5,192.5 221.5,193.2 220.5,193.2 220.5,196.5 219.5,196.5 219.5,196.2 218.5,196.2 218.5,199.3 217.5,199.3 217.5,199.8 216.5,199.8 216.5,202.9 215.5,202.9 215.5,203.2 214.5,203.2 214.5,205.8 213.5,205.8 213.5,205.9 212.5,205.9 212.5,209 211.5,209 211.5,208.9 210.5,208.9 210.5,211.3 209.5,211.3 209.5,208.1 208.5,208.1 208.5,210 207.5,210 207.5,206.4 206.5,206.4 206.5,207.1 205.5,207.1 205.5,204.4 204.5,204.4 204.5,205.6 203.5,205.6 203.5,201.9 202.5,201.9 202.5,202.6 201.5,202.6 201.5,199.5 200.5,199.5 200.5,199.3 199.5,199.3 199.5,196.5 198.5,196.5 198.5,197.6 197.5,197.6 197.5,194.1 196.5,194.1 196.5,194.6 195.5,194.6 195.5,191.1 194.5,191.1 194.5,190.7 193.5,190.7 193.5,186.8 192.5,186.8 192.5,186.8 191.5,186.8 191.5,183.9 190.5,183.9 190.5,183.4 189.5,183.4 189.5,179.9 188.5,179.9 188.5,179.7 187.5,179.7 187.5,176.3 186.5,176.3 186.5,176.4 185.5,176.4 185.5,172.4 184.5,172.4 184.5,171.7 183.5,171.7 183.5,168.5 182.5,168.5 182.5,168.2 181.5,168.2 181.5,164.8 180.5,164.8 180.5,165.2 179.5,165.2 179.5,161 178.5,161 178.5,161.2 177.5,161.2 177.5,157.4 176.5,157.4 176.5,157.9 175.5,157.9 175.5,154.8 174.5,154.8 174.5,154.6 173.5,154.6 173.5,151.5 172.5,151.5 172.5,151.6 171.5,151.6 171.5,148 170.5,148 170.5,148.2 169.5,148.2 169.5,144.5 168.5,144.5 168.5,143.8 167.5,143.8 167.5,140.9 166.5,140.9 166.5,141 165.5,141 165.5,137 164.5,137 164.5,137.7 163.5,137.7 163.5,135.9 162.5,135.9 162.5,137.7 161.5,137.7 161.5,135.8 160.5,135.8 160.5,137.4 159.5,137.4 159.5,136.1 158.5,136.1 158.5,139.7 157.5,139.7 157.5,139.6 156.5,139.6 156.5,142.8 155.5,142.8 155.5,142 154.5,142 154.5,145 153.5,145 153.5,145 152.5,145 152.5,147.4 151.5,147.4 151.5,146.3 150.5,146.3 150.5,149.2 149.5,149.2 149.5,148.8 148.5,148.8 148.5,150.6 147.5,150.6 147.5,150.2 146.5,150.2 146.5,152.7 145.5,152.7 145.5,151 144.5,151 144.5,153.4 143.5,153.4 143.5,152 142.5,152 142.5,154.6 141.5,154.6 141.5,152.9 140.5,152.9 140.5,154.7 139.5,154.7 139.5,153.7 138.5,153.7 138.5,154.9 137.5,154.9 137.5,154 136.5,154 136.5,155.3 135.5,155.3 135.5,152.9 134.5,152.9 134.5,154.9 133.5,154.9 133.5,152.4 132.5,152.4 132.5,152.7 131.5,152.7 131.5,150.6 130.5,150.6 130.5,151.5 129.5,151.5 129.5,149.1 128.5,149.1 128.5,149.7 127.5,149.7 127.5,147.4 126.5,147.4 126.5,148.4 125.5,148.4 125.5,145.5 124.5,145.5 124.5,145.8 123.5,145.8 123.5,142.6 122.5,142.6 122.5,144 121.5,144 121.5,141.8 120.5,141.8 120.5,142.6 119.5,142.6 119.5,139.3 118.5,139.3 118.5,139.5 117.5,139.5 117.5,136.8 116.5,136.8 116.5,138 115.5,138 115.5,135.4 114.5,135.4 114.5,136.8 113.5,136.8 113.5,134.4 112.5,134.4 112.5,135.9 111.5,135.9 111.5,137.1 110.5,137.1 110.5,140.5 109.5,140.5 109.5,139.9 108.5,139.9 108.5,144 107.5,144 107.5,145.2 106.5,145.2 106.5,148.4 105.5,148.4 105.5,149.8 104.5,149.8 104.5,153.8 103.5,153.8 103.5,155.6 102.5,155.6 102.5,159.8 101.5,159.8 101.5,160.8 100.5,160.8 100.5,165.8 99.5,165.8 99.5,168.2 98.5,168.2 98.5,173.5 97.5,173.5 97.5,176.3 96.5,176.3 96.5,181.6 95.5,181.6 95.5,182.7 94.5,182.7 94.5,187 93.5,187 93.5,188.8 92.5,188.8 92.5,192.8 91.5,192.8 91.5,194.3 90.5,194.3 90.5,198.4 89.5,198.4 89.5,200.3 88.5,200.3 88.5,204.5 87.5,204.5 87.5,205.7 86.5,205.7 86.5,210.1 85.5,210.1 85.5,211.2 84.5,211.2 84.5,212 83.5,212 83.5,209.7 82.5,209.7 82.5,209.6 81.5,209.6 81.5,207.4 80.5,207.4 80.5,208.7 79.5,208.7 79.5,205.6 78.5,205.6 78.5,206.2 77.5,206.2 77.5,203.2 76.5,203.2 76.5,203.7 75.5,203.7 75.5,201.5 74.5,201.5 74.5,202.2 73.5,202.2 73.5,198.9 72.5,198.9 72.5,199.6 71.5,199.6 71.5,197.1 70.5,197.1 70.5,198.2 69.5,198.2 69.5,195.2 68.5,195.2 68.5,195.2 67.5,195.2 67.5,191 66.5,191 66.5,191.7 65.5,191.7 65.5,188.5 64.5,188.5 64.5,189 63.5,189 63.5,185.5 62.5,185.5 62.5,185.7 61.5,185.7 61.5,182.9 60.5,182.9 60.5,182.5 59.5,182.5 59.5,179 58.5,179 58.5,180.1 57.5,180.1 57.5,176.2 56.5,176.2 56.5,177 55.5,177 55.5,173.4 54.5,173.4 54.5,173.3 53.5,173.3 53.5,170.2 52.5,170.2 52.5,169.9 51.5,169.9 51.5,167.3 50.5,167.3 50.5,167.5 49.5,167.5 49.5,162.9 48.5,162.9 48.5,163.4 47.5,163.4 47.5,160.2 46.5,160.2 46.5,159 45.5,159 45.5,155.2 44.5,155.2 44.5,156.1 43.5,156.1 43.5,151.8 42.5,151.8 42.5,151.6 41.5,151.6 41.5,148.5 40.5,148.5 40.5,147.8 39.5,147.8 39.5,145.2 38.5,145.2 38.5,144.3 37.5,144.3 37.5,141.7 36.5,141.7 36.5,140.8 35.5,140.8 35.5,137.4 34.5,137.4 34.5,137 33.5,137 33.5,135.3 32.5,135.3 32.5,136.8 31.5,136.8 31.5,135 30.5,135 30.5,136.7 29.5,136.7 29.5,135.4 28.5,135.4 28.5,136.8 27.5,136.8 27.5,135.4 26.5,135.4 26.5,137 25.5,137 25.5,135.4 24.5,135.4 24.5,138 23.5,138 23.5,136.3 22.5,136.3 22.5,138 21.5,138"/><clipPath id="envc"><use href="#env"/></clipPath><linearGradient id="gLow" gradientUnits="userSpaceOnUse" x1="0" y1="138" x2="0" y2="160"><stop offset="0" stop-color="#fff" stop-opacity="0"/><stop offset="1" stop-color="#fff" stop-opacity="1"/></linearGradient><linearGradient id="gUp" gradientUnits="userSpaceOnUse" x1="0" y1="148" x2="0" y2="178"><stop offset="0" stop-color="#fff" stop-opacity="1"/><stop offset="1" stop-color="#fff" stop-opacity="0"/></linearGradient><mask id="mLow"><rect width="550" height="301" fill="url(#gLow)"/></mask><mask id="mUp"><rect width="550" height="301" fill="url(#gUp)"/></mask><filter id="vb" filterUnits="userSpaceOnUse" x="0" y="0" width="550" height="301"><feGaussianBlur stdDeviation="2"/></filter><mask id="mV" maskUnits="userSpaceOnUse" x="0" y="0" width="550" height="301"><g filter="url(#vb)"><rect width="550" height="136" fill="#fff"/><polygon points="26.8,125 128.4,125 83,184" fill="#fff"/><polygon points="157.9,125 254.1,125 212.3,179.4" fill="#fff"/><polygon points="300,125 375,125 345,170" fill="#fff"/><polygon points="420,125 507.4,125 471,176" fill="#fff"/></g></mask><filter id="inner" filterUnits="userSpaceOnUse" x="0" y="0" width="550" height="301"><feGaussianBlur in="SourceAlpha" stdDeviation="2.5" result="b"/><feFlood flood-color="#4a004a" flood-opacity="0.56"/><feComposite in2="b" operator="in"/></filter></defs><use href="#env" fill="url(#mg)"/><g clip-path="url(#envc)"><rect x="0" y="140" width="550" height="80" fill="url(#vi)" mask="url(#mLow)"/><polygon points="35.4,122.5 37.4,122.5 41.5,118.1 48.4,106.8 54.1,99.4 61.8,90.7 67.1,84 71.3,79.6 77.3,72.2 82.7,67.6 85,66.5 89.4,74.4 93.6,84.6 96.4,94.7 98.7,104 102.7,111.3 106.3,116.5 109.9,120.2 109.9,131.4 109.4,131.4 106.3,135.4 102.8,141.1 98.9,149.3 94.9,160.1 90.1,169.7 85.2,179.6 79.1,175.6 70.9,169.3 64.3,162.4 57.8,155.5 52,148.6 46.5,141.1 42.4,136.1 39,131.7 35.6,131.4 35.4,131.4" fill="#000" filter="url(#inner)"/><polygon points="165.7,121.8 169.3,114.2 176.9,105.3 184.5,95.5 192.2,88.6 202.3,79.7 207.6,73.8 211.9,68.1 217.4,77.7 222.5,87.5 227.5,95.5 232.7,105.3 237.7,113.3 241.3,120 241.3,131.6 240.4,131.7 239.1,133.6 236.8,139.9 234.1,147.4 231.3,153.7 228.3,158.8 224.6,163.1 218.5,170.5 211.1,178.9 205.1,174.6 197.7,167.3 189.9,157.5 185.3,151 180.8,145.8 175.6,139.5 172.4,135.8 169.8,132.3 166.2,131.7 165.7,131.9" fill="#000" filter="url(#inner)"/><polygon points="297.3,123 297.5,123.2 298.9,118.8 302.9,112.5 309.7,104.2 317.7,95.8 325.8,86.4 333.9,76.9 339.4,71.1 344.6,66.8 349.4,76.2 353.2,86 357,95.9 360.8,105.8 363.7,112.3 366.4,118 369.1,121.1 370,119.6 370,130.7 367.3,134.2 363.7,140.5 360.4,147.4 357.4,155 353.8,164.1 349.3,172.6 345.2,178.9 340.3,176.1 335,172.6 327.6,165.2 320.1,157.9 314.2,150.6 311.1,146.3 305.2,139 300.7,131.7 297.3,131.7" fill="#000" filter="url(#inner)"/><polygon points="428.1,124.6 436.8,107.8 445.2,97.7 453.5,88.6 460.6,80.2 466.9,72.1 471.9,68.2 477,75.2 482.1,84.1 487.2,94.1 492.2,103 497.4,111.9 502.4,119.8 502.9,120.3 502.9,129.5 501.5,129.8 500.1,133.6 497.9,139.2 495.9,142.7 492.6,147.4 486.9,155.2 480.3,166.3 472.3,178.2 466.8,174.1 457.8,165.4 448.9,156.8 439.9,146.8 433.1,138 429.5,132.3 428.1,131" fill="#000" filter="url(#inner)"/></g><g clip-path="url(#envc)"><use href="#env" fill="none" stroke="#8a14e6" stroke-width="3.6" stroke-opacity="0.7"/></g><use href="#env" fill="none" stroke="#3a0880" stroke-width="1.1" stroke-opacity="0.9"/><path d="M22.5 131.9v-9.8M22.5 131.9v7.5M26.5 130.0v7.8M29.5 128.5v-9.8M29.5 128.5v9.0M30.5 128.0v-10.9M31.5 127.6v-6.4M31.5 127.6v7.2M32.5 127.1v-9.3M33.5 126.6v-9.7M33.5 126.6v6.5M34.5 126.1v-6.6M34.5 126.1v5.7M38.5 124.2v-12.2M40.5 123.3v9.7M41.5 122.8v-10.1M45.5 121.0v-10.7M46.5 120.6v-9.1M46.5 120.6v9.7M47.5 120.1v2.2M48.5 119.7v-10.3M50.5 118.8v10.0M51.5 118.4v-7.8M53.5 117.6v-8.0M55.5 116.8v-12.1M55.5 116.8v6.5M57.5 116.0v10.2M59.5 115.3v-7.6M61.5 114.5v-7.8M63.5 113.8v-10.6M67.5 112.5v-6.8M69.5 111.9v6.6M70.5 111.6v2.3M71.5 111.3v-8.8M73.5 110.8v3.7M76.5 110.1v-4.0M77.5 109.8v-13.0M79.5 109.4v5.8M81.5 109.0v-8.2M82.5 108.9v6.6M85.5 108.4v-8.7M86.5 108.3v-14.6M87.5 108.2v-8.7M90.5 107.9v7.3M91.5 107.8v-12.3M91.5 107.8v9.3M92.5 107.7v-11.1M93.5 107.7v-6.9M94.5 107.6v5.8M97.5 107.6v-11.3M98.5 107.6v-3.1M100.5 107.7v-10.3M103.5 107.8v-8.7M104.5 107.9v-4.8M104.5 107.9v4.4M106.5 108.1v6.5M107.5 108.2v6.7M108.5 108.4v8.0M109.5 108.5v2.5M111.5 108.9v-10.4M112.5 109.0v-7.4M112.5 109.0v1.8M114.5 109.4v3.9M115.5 109.7v-10.7M115.5 109.7v2.3M116.5 109.9v3.5M117.5 110.1v6.6M118.5 110.4v7.9M119.5 110.7v9.5M121.5 111.2v-6.7M125.5 112.5v2.4M129.5 114.0v-9.0M129.5 114.0v5.8M130.5 114.4v-13.8M133.5 115.6v4.2M136.5 116.9v5.0M138.5 117.8v-5.7M139.5 118.3v-7.1M140.5 118.7v-13.2M140.5 118.7v5.9M142.5 119.7v8.2M143.5 120.2v-8.2M147.5 122.2v9.2M149.5 123.3v8.3M150.5 123.8v-13.0M150.5 123.8v3.1M154.5 126.0v-14.8M154.5 126.0v7.2M155.5 126.5v6.0M156.5 127.1v-11.2M159.5 128.8v9.5M160.5 129.3v7.1M161.5 129.9v-7.4M162.5 130.4v10.0M163.5 131.0v-12.2M165.5 132.1v8.9M166.5 132.6v-9.0M168.5 133.7v6.1M172.5 135.9v5.7M177.5 138.5v-6.6M183.5 141.4v-5.5M183.5 141.4v5.9M184.5 141.8v7.6M189.5 144.0v-14.5M189.5 144.0v6.6M190.5 144.4v-6.6M191.5 144.8v2.9M192.5 145.2v-11.2M192.5 145.2v3.7M193.5 145.6v6.9M194.5 145.9v-6.2M194.5 145.9v9.0M196.5 146.6v-8.7M197.5 147.0v-10.7M198.5 147.3v2.8M199.5 147.6v5.8M203.5 148.7v5.4M204.5 149.0v-12.2M206.5 149.4v10.1M207.5 149.6v-3.9M207.5 149.6v9.2M209.5 150.0v-4.0M210.5 150.2v6.8M212.5 150.5v7.0M215.5 150.9v6.7M216.5 151.0v-5.2M217.5 151.0v-7.1M217.5 151.0v6.6M219.5 151.2v-7.9M219.5 151.2v6.8M221.5 151.2v-10.8M221.5 151.2v2.6M222.5 151.2v-4.5M224.5 151.2v-12.9M226.5 151.2v5.7M229.5 151.0v-6.6M230.5 150.9v5.5M237.5 150.0v-12.4M238.5 149.8v6.9M239.5 149.6v-10.8M240.5 149.4v-9.8M242.5 148.9v6.0M243.5 148.7v8.3M244.5 148.5v-14.2M244.5 148.5v4.7M245.5 148.2v6.9M246.5 147.9v5.4M247.5 147.7v6.6M248.5 147.4v5.7M250.5 146.8v6.8M251.5 146.5v-12.7M253.5 145.8v-9.9M256.5 144.8v7.0M257.5 144.4v6.8M259.5 143.7v-5.6M260.5 143.3v5.3M262.5 142.5v4.6M263.5 142.1v-14.7M263.5 142.1v6.4M264.5 141.7v-12.9M264.5 141.7v5.7M265.5 141.3v2.2M266.5 140.9v5.6M269.5 139.6v-3.1M270.5 139.1v-8.5M271.5 138.7v6.4M273.5 137.8v-11.3M273.5 137.8v8.0M274.5 137.3v-4.6M275.5 136.9v-6.0M276.5 136.4v-5.5M277.5 135.9v9.0M282.5 133.6v-11.4M284.5 132.6v-14.6M285.5 132.1v5.2M286.5 131.7v5.0M289.5 130.2v-13.7M290.5 129.7v-5.1M292.5 128.8v4.1M294.5 127.8v3.4M298.5 125.9v-14.7M298.5 125.9v7.3M299.5 125.4v-8.1M300.5 124.9v6.8M302.5 124.0v-6.9M303.5 123.5v-5.6M304.5 123.1v6.7M305.5 122.6v-8.2M308.5 121.2v-6.0M308.5 121.2v4.7M310.5 120.4v3.6M311.5 119.9v-12.8M311.5 119.9v6.5M313.5 119.1v-11.5M313.5 119.1v2.9M316.5 117.8v4.1M321.5 115.8v8.4M324.5 114.7v-11.5M324.5 114.7v6.2M331.5 112.4v6.6M334.5 111.5v-8.6M334.5 111.5v5.9M336.5 110.9v4.9M337.5 110.7v-11.9M338.5 110.4v-13.2M338.5 110.4v7.0M340.5 110.0v-8.0M341.5 109.7v-10.2M341.5 109.7v6.2M343.5 109.3v-7.0M343.5 109.3v6.0M344.5 109.1v3.2M346.5 108.8v7.2M347.5 108.6v-10.4M347.5 108.6v8.9M348.5 108.5v-6.9M348.5 108.5v9.7M349.5 108.3v6.5M352.5 108.0v7.3M356.5 107.7v5.2M357.5 107.7v-7.9M358.5 107.6v3.0M361.5 107.6v-5.8M361.5 107.6v7.7M364.5 107.7v-10.4M365.5 107.7v2.5M367.5 107.9v-8.7M367.5 107.9v8.9M373.5 108.6v2.2M374.5 108.8v2.4M376.5 109.1v6.5M377.5 109.3v-3.3M378.5 109.6v8.1M382.5 110.5v6.5M386.5 111.7v-7.0M386.5 111.7v3.2M387.5 112.0v-10.6M389.5 112.7v-14.4M389.5 112.7v4.5M391.5 113.4v-8.3M393.5 114.2v3.5M395.5 115.0v5.2M396.5 115.4v-8.6M399.5 116.7v6.6M402.5 118.0v7.0M405.5 119.5v4.5M406.5 120.0v-10.4M407.5 120.5v-8.8M408.5 121.0v-7.9M410.5 122.0v9.1M412.5 123.0v-10.0M412.5 123.0v2.9M414.5 124.1v-8.9M414.5 124.1v4.6M417.5 125.7v-3.9M418.5 126.3v4.8M423.5 129.0v2.5M424.5 129.6v9.2M425.5 130.1v8.3M426.5 130.7v9.2M428.5 131.8v-10.9M429.5 132.4v5.9M431.5 133.5v-13.3M433.5 134.5v6.7M436.5 136.1v9.6M439.5 137.7v-14.0M440.5 138.2v-7.5M440.5 138.2v7.1M441.5 138.7v-11.0M443.5 139.7v10.2M446.5 141.2v-8.2M448.5 142.1v5.5M449.5 142.5v-7.5M451.5 143.4v8.5M453.5 144.2v4.8M455.5 145.0v8.8M456.5 145.4v7.8M462.5 147.4v-13.8M464.5 148.0v7.1M467.5 148.8v-6.1M469.5 149.3v9.7M470.5 149.5v-9.7M471.5 149.7v-11.5M471.5 149.7v2.4M473.5 150.1v6.6M474.5 150.3v10.0M476.5 150.6v3.1M478.5 150.8v8.9M480.5 151.0v-10.0M482.5 151.1v-14.8M482.5 151.1v6.4M483.5 151.2v-7.4M484.5 151.2v-9.1M485.5 151.2v9.3M486.5 151.2v-9.9M486.5 151.2v5.5M487.5 151.2v-14.7M487.5 151.2v3.1M489.5 151.2v5.6M490.5 151.1v-7.8M490.5 151.1v2.4M491.5 151.1v-9.6M492.5 151.0v3.4M495.5 150.7v6.5M497.5 150.5v7.6M498.5 150.4v9.4M499.5 150.2v-3.5M500.5 150.0v10.1M502.5 149.7v-3.6M504.5 149.3v-3.9M507.5 148.6v5.5M510.5 147.8v-1.8M511.5 147.5v-11.5M512.5 147.2v5.0M514.5 146.6v4.5M516.5 146.0v-7.1M517.5 145.6v-11.1M518.5 145.3v-6.5M519.5 145.0v-8.2M521.5 144.2v5.8M522.5 143.9v-11.0M523.5 143.5v-9.9M523.5 143.5v4.7M525.5 142.7v-11.0M526.5 142.3v-14.3M530.5 140.6v8.1M533.5 139.3v8.5M535.5 138.5v2.7M538.5 137.1v-8.1" stroke="#0e620e" stroke-width="1" fill="none"/><path d="M23.5 131.4v3.4M25.5 130.5v-9.6M25.5 130.5v6.0M26.5 130.0v-8.0M27.5 129.5v8.6M28.5 129.0v-14.8M35.5 125.6v9.6M37.5 124.7v7.1M38.5 124.2v6.2M39.5 123.8v4.4M44.5 121.5v5.3M48.5 119.7v6.8M49.5 119.3v-9.1M51.5 118.4v3.0M52.5 118.0v-15.0M53.5 117.6v2.2M56.5 116.4v-9.3M56.5 116.4v4.3M57.5 116.0v-10.3M58.5 115.6v-8.9M58.5 115.6v7.3M59.5 115.3v8.8M60.5 114.9v-9.6M60.5 114.9v6.1M66.5 112.8v4.9M68.5 112.2v7.2M69.5 111.9v-13.1M71.5 111.3v4.7M72.5 111.1v-4.6M74.5 110.5v5.5M76.5 110.1v2.6M80.5 109.2v-13.4M81.5 109.0v4.5M82.5 108.9v-10.3M83.5 108.7v-13.0M88.5 108.0v-9.2M89.5 107.9v-6.6M89.5 107.9v5.2M90.5 107.9v-8.2M92.5 107.7v4.6M94.5 107.6v-8.4M95.5 107.6v-12.6M95.5 107.6v5.9M96.5 107.6v-10.6M98.5 107.6v9.7M99.5 107.6v7.3M100.5 107.7v5.0M101.5 107.7v6.8M102.5 107.8v7.3M108.5 108.4v-8.9M110.5 108.7v3.8M111.5 108.9v2.3M113.5 109.2v-11.1M114.5 109.4v-7.6M117.5 110.1v-8.3M119.5 110.7v-12.2M120.5 110.9v-11.0M120.5 110.9v7.7M121.5 111.2v5.7M123.5 111.9v-12.8M123.5 111.9v7.0M125.5 112.5v-12.3M127.5 113.2v3.9M131.5 114.8v-10.9M132.5 115.2v4.2M136.5 116.9v-13.5M141.5 119.2v5.8M144.5 120.7v-10.0M151.5 124.4v-9.7M151.5 124.4v5.2M153.5 125.4v-10.0M153.5 125.4v7.3M157.5 127.6v-7.9M158.5 128.2v-8.0M158.5 128.2v7.1M160.5 129.3v-13.1M161.5 129.9v6.6M162.5 130.4v-12.8M163.5 131.0v5.2M165.5 132.1v-5.8M169.5 134.3v-10.8M169.5 134.3v2.7M170.5 134.8v-10.6M170.5 134.8v5.1M173.5 136.4v9.9M174.5 136.9v-10.6M174.5 136.9v5.5M178.5 139.0v-8.9M180.5 140.0v6.5M182.5 140.9v-13.1M184.5 141.8v-5.8M186.5 142.7v-9.3M187.5 143.2v-7.5M187.5 143.2v6.2M190.5 144.4v5.1M191.5 144.8v-14.9M193.5 145.6v-5.3M195.5 146.3v8.1M197.5 147.0v2.4M200.5 147.9v-7.3M201.5 148.2v-8.9M202.5 148.5v-8.5M210.5 150.2v-12.1M211.5 150.4v-7.7M211.5 150.4v4.8M213.5 150.6v7.6M214.5 150.8v-11.4M215.5 150.9v-9.7M218.5 151.1v7.6M223.5 151.2v7.3M225.5 151.2v-11.9M226.5 151.2v-13.2M227.5 151.1v-14.4M228.5 151.1v-11.1M228.5 151.1v6.7M233.5 150.6v-11.5M235.5 150.3v-9.1M235.5 150.3v7.0M236.5 150.1v5.2M237.5 150.0v7.4M240.5 149.4v6.0M241.5 149.2v9.1M243.5 148.7v-12.4M245.5 148.2v-3.2M246.5 147.9v-8.5M248.5 147.4v-9.9M250.5 146.8v-14.2M252.5 146.1v-11.2M255.5 145.1v6.2M258.5 144.0v6.4M259.5 143.7v6.6M260.5 143.3v-7.0M261.5 142.9v6.9M262.5 142.5v-12.6M265.5 141.3v-13.0M270.5 139.1v8.3M271.5 138.7v-12.3M275.5 136.9v7.8M277.5 135.9v-7.5M278.5 135.5v7.8M280.5 134.5v-10.7M280.5 134.5v6.2M281.5 134.1v-7.3M281.5 134.1v2.8M282.5 133.6v4.6M287.5 131.2v-9.8M288.5 130.7v7.5M290.5 129.7v7.8M291.5 129.2v-3.7M291.5 129.2v6.5M292.5 128.8v-9.6M295.5 127.3v-14.2M299.5 125.4v8.8M301.5 124.5v-12.5M301.5 124.5v4.1M302.5 124.0v9.2M303.5 123.5v4.4M304.5 123.1v-3.5M306.5 122.1v-11.5M307.5 121.7v5.6M309.5 120.8v-3.9M310.5 120.4v-11.4M317.5 117.4v9.1M318.5 117.0v6.7M319.5 116.6v-10.5M321.5 115.8v-6.7M322.5 115.4v6.7M323.5 115.1v-8.5M323.5 115.1v6.4M327.5 113.7v7.8M328.5 113.3v-12.5M328.5 113.3v7.4M329.5 113.0v8.2M330.5 112.7v5.2M332.5 112.1v9.4M333.5 111.8v10.1M335.5 111.2v-14.0M340.5 110.0v8.2M345.5 108.9v10.2M349.5 108.3v-6.5M351.5 108.1v-6.8M354.5 107.8v3.1M355.5 107.8v-10.6M355.5 107.8v4.7M356.5 107.7v-6.9M360.5 107.6v-10.3M360.5 107.6v7.7M363.5 107.6v-11.3M364.5 107.7v9.4M366.5 107.8v-6.8M366.5 107.8v6.8M368.5 108.0v-13.7M368.5 108.0v9.8M369.5 108.1v-4.9M370.5 108.2v-11.2M372.5 108.5v-14.4M376.5 109.1v-4.3M380.5 110.0v-9.0M380.5 110.0v4.8M381.5 110.3v-6.5M381.5 110.3v2.2M383.5 110.8v-13.3M385.5 111.4v9.5M387.5 112.0v5.7M390.5 113.0v9.9M392.5 113.8v6.9M393.5 114.2v-5.5M400.5 117.1v8.1M401.5 117.6v-9.4M403.5 118.5v6.5M404.5 119.0v-8.2M404.5 119.0v3.6M406.5 120.0v4.8M409.5 121.5v-12.4M415.5 124.6v6.9M416.5 125.2v-10.5M416.5 125.2v9.9M417.5 125.7v4.5M418.5 126.3v-8.5M419.5 126.8v4.3M420.5 127.4v-7.4M421.5 127.9v-7.9M422.5 128.5v5.7M424.5 129.6v-10.8M425.5 130.1v-3.8M426.5 130.7v-12.4M427.5 131.3v-13.6M427.5 131.3v4.8M428.5 131.8v9.7M429.5 132.4v-6.3M430.5 132.9v4.7M435.5 135.6v3.3M437.5 136.7v6.4M438.5 137.2v-7.4M439.5 137.7v4.6M442.5 139.2v-9.1M442.5 139.2v7.6M444.5 140.2v-6.6M445.5 140.7v-14.4M447.5 141.6v-6.5M449.5 142.5v9.0M450.5 143.0v-8.9M451.5 143.4v-14.0M454.5 144.6v-7.7M455.5 145.0v-6.2M457.5 145.8v-10.1M457.5 145.8v5.2M458.5 146.1v-6.3M459.5 146.5v-12.9M461.5 147.1v6.7M464.5 148.0v-14.1M472.5 149.9v-14.5M476.5 150.6v-7.6M478.5 150.8v-7.3M479.5 150.9v-8.9M479.5 150.9v6.2M480.5 151.0v6.8M485.5 151.2v-9.5M497.5 150.5v-6.9M498.5 150.4v-5.1M500.5 150.0v-3.4M501.5 149.9v4.1M503.5 149.5v-2.8M503.5 149.5v2.6M504.5 149.3v4.8M506.5 148.8v-1.8M507.5 148.6v-3.9M508.5 148.3v3.7M509.5 148.1v-3.2M513.5 146.9v-4.8M514.5 146.6v-10.6M517.5 145.6v6.0M519.5 145.0v7.1M521.5 144.2v-9.0M522.5 143.9v6.2M524.5 143.1v6.7M526.5 142.3v6.9M527.5 141.9v-12.1M528.5 141.5v-7.1M528.5 141.5v2.2M529.5 141.1v9.1M532.5 139.8v-11.6M532.5 139.8v5.6M533.5 139.3v-14.4M534.5 138.9v-14.6M536.5 138.0v4.2M537.5 137.6v-7.1M537.5 137.6v4.5" stroke="#157815" stroke-width="1" fill="none"/><path d="M23.5 131.4v-8.6M24.5 130.9v-8.6M24.5 130.9v6.4M27.5 129.5v-4.5M28.5 129.0v6.4M30.5 128.0v5.9M32.5 127.1v7.9M36.5 125.2v-11.3M37.5 124.7v-10.7M39.5 123.8v-7.5M40.5 123.3v-8.9M41.5 122.8v7.1M42.5 122.4v7.5M43.5 121.9v4.5M45.5 121.0v6.4M47.5 120.1v-8.1M50.5 118.8v-8.1M52.5 118.0v7.9M54.5 117.2v-8.6M54.5 117.2v7.5M62.5 114.2v6.0M63.5 113.8v5.2M64.5 113.5v-11.0M65.5 113.2v-10.7M65.5 113.2v6.2M66.5 112.8v-14.3M67.5 112.5v7.1M70.5 111.6v-12.6M73.5 110.8v-8.3M74.5 110.5v-11.2M75.5 110.3v-11.1M75.5 110.3v5.7M77.5 109.8v4.3M78.5 109.6v3.2M79.5 109.4v-10.2M83.5 108.7v4.5M86.5 108.3v7.5M88.5 108.0v6.2M96.5 107.6v2.7M97.5 107.6v4.4M99.5 107.6v-6.5M102.5 107.8v-3.8M105.5 108.0v7.7M106.5 108.1v-9.5M107.5 108.2v-3.1M113.5 109.2v3.6M116.5 109.9v-6.6M118.5 110.4v-11.8M122.5 111.5v-10.9M124.5 112.2v4.1M126.5 112.9v-8.0M126.5 112.9v5.1M127.5 113.2v-10.5M130.5 114.4v6.6M131.5 114.8v8.9M133.5 115.6v-10.4M134.5 116.0v-7.7M135.5 116.4v-10.8M135.5 116.4v6.0M137.5 117.3v6.8M138.5 117.8v2.2M141.5 119.2v-14.7M142.5 119.7v-9.3M143.5 120.2v5.6M144.5 120.7v7.8M145.5 121.2v-8.5M145.5 121.2v5.3M146.5 121.7v9.6M147.5 122.2v-4.6M148.5 122.8v-7.8M148.5 122.8v10.1M149.5 123.3v-7.4M152.5 124.9v-13.8M152.5 124.9v9.8M155.5 126.5v-14.8M156.5 127.1v7.6M166.5 132.6v5.0M167.5 133.2v-13.1M167.5 133.2v7.8M168.5 133.7v-9.5M171.5 135.3v-9.4M171.5 135.3v5.8M172.5 135.9v-11.1M173.5 136.4v-12.2M175.5 137.5v8.8M176.5 138.0v-8.4M176.5 138.0v7.0M178.5 139.0v4.6M179.5 139.5v-9.6M180.5 140.0v-6.8M181.5 140.4v2.3M182.5 140.9v7.7M185.5 142.3v3.9M188.5 143.6v-6.1M188.5 143.6v4.7M199.5 147.6v-6.8M200.5 147.9v6.2M202.5 148.5v8.5M203.5 148.7v-6.5M205.5 149.2v-9.8M205.5 149.2v4.6M208.5 149.8v10.0M209.5 150.0v6.2M212.5 150.5v-10.9M213.5 150.6v-13.9M214.5 150.8v6.2M216.5 151.0v8.5M220.5 151.2v-9.2M220.5 151.2v5.1M222.5 151.2v9.1M223.5 151.2v-9.9M224.5 151.2v7.7M225.5 151.2v6.2M229.5 151.0v6.3M230.5 150.9v-10.3M231.5 150.8v-11.0M231.5 150.8v3.5M232.5 150.7v-7.4M232.5 150.7v9.5M233.5 150.6v5.0M234.5 150.4v8.2M236.5 150.1v-9.6M239.5 149.6v2.7M241.5 149.2v-7.3M242.5 148.9v-8.3M247.5 147.7v-3.1M249.5 147.1v7.6M252.5 146.1v9.8M254.5 145.5v-7.3M255.5 145.1v-12.0M256.5 144.8v-10.0M258.5 144.0v-7.5M261.5 142.9v-8.3M267.5 140.4v-9.2M268.5 140.0v-11.7M268.5 140.0v5.7M269.5 139.6v6.4M272.5 138.2v-12.0M272.5 138.2v7.8M276.5 136.4v5.5M278.5 135.5v-8.0M279.5 135.0v-7.3M279.5 135.0v6.5M283.5 133.1v-10.0M283.5 133.1v5.9M284.5 132.6v9.0M285.5 132.1v-10.0M286.5 131.7v-10.9M288.5 130.7v-11.4M289.5 130.2v6.5M293.5 128.3v-3.2M293.5 128.3v5.1M294.5 127.8v-9.2M295.5 127.3v5.6M296.5 126.8v-8.9M297.5 126.4v-6.3M297.5 126.4v5.0M300.5 124.9v-6.3M305.5 122.6v4.9M307.5 121.7v-7.6M309.5 120.8v6.8M312.5 119.5v-12.6M312.5 119.5v6.0M314.5 118.6v-12.6M315.5 118.2v-4.2M315.5 118.2v3.3M316.5 117.8v-12.0M317.5 117.4v-8.6M318.5 117.0v-7.1M319.5 116.6v5.0M320.5 116.2v-8.7M320.5 116.2v7.1M325.5 114.3v-9.9M325.5 114.3v7.3M326.5 114.0v-10.3M326.5 114.0v7.4M327.5 113.7v-5.9M329.5 113.0v-6.8M330.5 112.7v-8.1M331.5 112.4v-8.8M332.5 112.1v-6.6M333.5 111.8v-10.4M335.5 111.2v8.2M336.5 110.9v-8.4M339.5 110.2v2.1M342.5 109.5v-11.8M342.5 109.5v2.8M344.5 109.1v-4.0M345.5 108.9v-13.5M346.5 108.8v-3.3M350.5 108.2v-11.8M350.5 108.2v9.0M351.5 108.1v5.9M352.5 108.0v-4.9M353.5 107.9v-5.0M353.5 107.9v8.8M354.5 107.8v-6.9M358.5 107.6v-11.3M359.5 107.6v4.8M362.5 107.6v4.9M363.5 107.6v5.8M365.5 107.7v-4.1M369.5 108.1v4.5M371.5 108.3v-14.4M371.5 108.3v3.5M372.5 108.5v7.4M374.5 108.8v-8.5M375.5 108.9v-6.1M377.5 109.3v4.4M378.5 109.6v-5.1M379.5 109.8v8.5M383.5 110.8v8.3M384.5 111.1v-11.6M384.5 111.1v4.5M385.5 111.4v-7.3M394.5 114.6v6.9M396.5 115.4v7.7M397.5 115.8v-12.6M398.5 116.2v-13.3M398.5 116.2v9.4M399.5 116.7v-11.6M400.5 117.1v-9.1M401.5 117.6v6.8M403.5 118.5v-11.6M407.5 120.5v3.0M408.5 121.0v3.5M409.5 121.5v3.6M410.5 122.0v-9.8M411.5 122.5v-11.3M413.5 123.6v-5.8M413.5 123.6v4.7M419.5 126.8v-6.8M420.5 127.4v3.1M421.5 127.9v6.2M422.5 128.5v-10.2M431.5 133.5v8.7M432.5 134.0v-11.0M434.5 135.1v-9.9M437.5 136.7v-3.4M438.5 137.2v4.8M443.5 139.7v-12.4M444.5 140.2v5.1M445.5 140.7v4.8M446.5 141.2v6.6M447.5 141.6v6.8M448.5 142.1v-8.1M450.5 143.0v7.3M452.5 143.8v6.7M453.5 144.2v-7.0M454.5 144.6v5.2M456.5 145.4v-3.4M462.5 147.4v2.4M463.5 147.8v-5.8M465.5 148.3v-10.8M466.5 148.6v7.4M468.5 149.1v-11.3M468.5 149.1v6.0M469.5 149.3v-9.1M470.5 149.5v5.5M472.5 149.9v4.1M474.5 150.3v-8.6M475.5 150.4v-7.4M477.5 150.7v5.2M481.5 151.1v-6.7M481.5 151.1v10.1M488.5 151.2v-9.6M489.5 151.2v-10.0M492.5 151.0v-13.8M493.5 150.9v-13.3M493.5 150.9v6.7M494.5 150.9v-9.4M494.5 150.9v2.5M501.5 149.9v-2.9M502.5 149.7v5.4M505.5 149.1v-2.7M506.5 148.8v6.1M509.5 148.1v9.5M511.5 147.5v7.5M515.5 146.3v-12.1M516.5 146.0v5.8M520.5 144.6v-11.0M520.5 144.6v7.8M525.5 142.7v9.5M527.5 141.9v9.9M529.5 141.1v-5.8M530.5 140.6v-9.1M531.5 140.2v-7.9M531.5 140.2v7.6M534.5 138.9v4.8M535.5 138.5v-8.9M536.5 138.0v-7.9M538.5 137.1v6.7" stroke="#1c8c1c" stroke-width="1" fill="none"/><path d="M22.5 131.9v4.0M23.5 131.4v-3.9M23.5 131.4v3.3M24.5 130.9v-4.2M24.5 130.9v2.9M25.5 130.5v-4.7M25.5 130.5v3.2M26.5 130.0v3.1M27.5 129.5v-5.2M27.5 129.5v4.5M28.5 129.0v-3.3M29.5 128.5v3.0M30.5 128.0v-4.6M30.5 128.0v4.0M31.5 127.6v-3.6M31.5 127.6v2.6M32.5 127.1v-5.1M32.5 127.1v3.9M33.5 126.6v-6.9M33.5 126.6v3.1M34.5 126.1v-3.6M34.5 126.1v4.2M35.5 125.6v-4.2M36.5 125.2v-5.8M36.5 125.2v3.6M37.5 124.7v-3.7M37.5 124.7v4.6M38.5 124.2v5.9M39.5 123.8v2.9M41.5 122.8v-3.7M41.5 122.8v3.9M42.5 122.4v-3.7M42.5 122.4v5.4M43.5 121.9v-4.4M43.5 121.9v4.3M44.5 121.5v-6.5M44.5 121.5v5.1M45.5 121.0v5.7M46.5 120.6v4.2M47.5 120.1v-4.9M47.5 120.1v5.2M48.5 119.7v-5.5M48.5 119.7v5.3M49.5 119.3v4.1M50.5 118.8v-3.3M51.5 118.4v4.8M52.5 118.0v-3.8M52.5 118.0v4.9M53.5 117.6v-6.7M53.5 117.6v5.2M54.5 117.2v3.7M55.5 116.8v-3.1M55.5 116.8v5.5M56.5 116.4v-3.2M56.5 116.4v3.2M57.5 116.0v-5.7M57.5 116.0v5.0M58.5 115.6v-6.3M60.5 114.9v-3.2M60.5 114.9v4.9M61.5 114.5v-6.8M61.5 114.5v3.4M62.5 114.2v-4.4M62.5 114.2v3.4M63.5 113.8v-3.2M64.5 113.5v-4.3M64.5 113.5v5.0M65.5 113.2v-5.9M65.5 113.2v5.3M66.5 112.8v-5.8M67.5 112.5v-5.7M68.5 112.2v-5.1M68.5 112.2v5.1M69.5 111.9v-6.6M69.5 111.9v3.1M70.5 111.6v-4.9M70.5 111.6v3.5M71.5 111.3v4.1M72.5 111.1v-6.7M72.5 111.1v2.9M73.5 110.8v5.5M74.5 110.5v-4.2M74.5 110.5v5.1M75.5 110.3v-6.0M75.5 110.3v5.7M76.5 110.1v3.6M77.5 109.8v2.8M78.5 109.6v-5.5M78.5 109.6v4.2M79.5 109.4v-5.6M79.5 109.4v2.8M80.5 109.2v3.0M81.5 109.0v-4.5M81.5 109.0v5.1M82.5 108.9v-6.9M82.5 108.9v5.6M83.5 108.7v5.3M84.5 108.5v-3.3M85.5 108.4v-3.6M85.5 108.4v5.4M86.5 108.3v-3.2M86.5 108.3v5.8M87.5 108.2v-4.2M87.5 108.2v3.4M88.5 108.0v-4.3M88.5 108.0v5.8M90.5 107.9v-4.6M90.5 107.9v5.8M91.5 107.8v-6.6M91.5 107.8v5.6M92.5 107.7v-6.9M92.5 107.7v5.0M93.5 107.7v-3.7M93.5 107.7v2.7M94.5 107.6v-3.4M94.5 107.6v5.1M95.5 107.6v-5.8M95.5 107.6v5.6M96.5 107.6v-3.1M96.5 107.6v4.6M97.5 107.6v-5.9M98.5 107.6v-5.9M99.5 107.6v-5.8M99.5 107.6v5.2M100.5 107.7v-5.6M101.5 107.7v-3.3M101.5 107.7v3.0M102.5 107.8v3.5M103.5 107.8v-3.6M103.5 107.8v3.7M104.5 107.9v-3.4M105.5 108.0v-4.2M105.5 108.0v2.8M106.5 108.1v3.7M107.5 108.2v-3.8M107.5 108.2v2.8M108.5 108.4v-4.6M108.5 108.4v3.5M109.5 108.5v-4.7M110.5 108.7v-3.8M110.5 108.7v2.5M111.5 108.9v-5.2M111.5 108.9v2.5M112.5 109.0v-5.0M113.5 109.2v-5.8M113.5 109.2v2.5M114.5 109.4v2.5M115.5 109.7v-4.8M115.5 109.7v2.5M117.5 110.1v-4.8M119.5 110.7v-6.2M119.5 110.7v3.7M120.5 110.9v3.4M121.5 111.2v-5.5M121.5 111.2v4.4M122.5 111.5v-5.8M122.5 111.5v4.4M123.5 111.9v4.6M124.5 112.2v-5.1M125.5 112.5v-4.7M125.5 112.5v2.7M126.5 112.9v-3.9M127.5 113.2v-3.4M128.5 113.6v-6.3M128.5 113.6v4.5M129.5 114.0v5.6M130.5 114.4v-3.8M130.5 114.4v3.6M131.5 114.8v-3.0M131.5 114.8v3.1M132.5 115.2v-5.6M132.5 115.2v3.5M134.5 116.0v-3.6M134.5 116.0v3.9M135.5 116.4v5.5M136.5 116.9v-4.6M136.5 116.9v2.9M137.5 117.3v-3.6M137.5 117.3v2.8M139.5 118.3v2.8M140.5 118.7v-6.0M140.5 118.7v5.7M141.5 119.2v-6.4M141.5 119.2v2.9M142.5 119.7v3.5M143.5 120.2v-6.2M143.5 120.2v5.8M144.5 120.7v-6.8M144.5 120.7v4.7M145.5 121.2v-6.6M145.5 121.2v3.8M146.5 121.7v-4.8M146.5 121.7v4.5M147.5 122.2v-3.7M147.5 122.2v4.7M148.5 122.8v4.3M150.5 123.8v-6.6M150.5 123.8v5.2M151.5 124.4v-4.0M151.5 124.4v4.5M152.5 124.9v3.0M153.5 125.4v-4.6M153.5 125.4v4.7M154.5 126.0v4.4M155.5 126.5v-6.4M155.5 126.5v5.4M157.5 127.6v-3.3M157.5 127.6v4.8M158.5 128.2v3.1M159.5 128.8v-6.2M159.5 128.8v4.7M160.5 129.3v-5.6M160.5 129.3v3.8M161.5 129.9v4.0M162.5 130.4v3.7M163.5 131.0v-4.0M163.5 131.0v3.1M164.5 131.5v-3.7M164.5 131.5v5.2M165.5 132.1v-5.8M165.5 132.1v3.4M166.5 132.6v-6.6M167.5 133.2v-4.2M167.5 133.2v4.7M168.5 133.7v-7.0M168.5 133.7v5.0M169.5 134.3v-6.1M169.5 134.3v4.4M170.5 134.8v-6.9M170.5 134.8v3.7M171.5 135.3v-7.0M171.5 135.3v3.6M172.5 135.9v-3.2M172.5 135.9v4.9M173.5 136.4v-5.5M173.5 136.4v5.7M174.5 136.9v-4.0M174.5 136.9v4.5M175.5 137.5v-5.1M176.5 138.0v4.7M177.5 138.5v-5.7M178.5 139.0v-4.0M178.5 139.0v5.5M179.5 139.5v-5.7M180.5 140.0v-5.5M180.5 140.0v3.6M181.5 140.4v-4.9M181.5 140.4v5.3M182.5 140.9v-5.3M183.5 141.4v4.9M184.5 141.8v-4.3M184.5 141.8v3.0M185.5 142.3v5.7M186.5 142.7v-6.0M186.5 142.7v4.6M187.5 143.2v-3.0M187.5 143.2v3.3M188.5 143.6v-5.0M188.5 143.6v4.5M189.5 144.0v-7.0M189.5 144.0v4.6M190.5 144.4v-6.5M190.5 144.4v5.8M191.5 144.8v4.4M192.5 145.2v4.5M193.5 145.6v-6.4M193.5 145.6v3.4M194.5 145.9v-5.1M194.5 145.9v5.1M195.5 146.3v-4.2M195.5 146.3v3.9M196.5 146.6v5.7M198.5 147.3v-3.1M198.5 147.3v4.7M199.5 147.6v-6.6M199.5 147.6v3.5M200.5 147.9v-4.8M201.5 148.2v-6.0M201.5 148.2v3.4M202.5 148.5v5.3M203.5 148.7v-4.4M203.5 148.7v3.2M204.5 149.0v5.1M205.5 149.2v5.4M206.5 149.4v-4.4M206.5 149.4v5.6M207.5 149.6v-6.9M207.5 149.6v5.7M208.5 149.8v-4.4M209.5 150.0v3.4M210.5 150.2v-6.3M210.5 150.2v5.4M211.5 150.4v-6.5M211.5 150.4v5.1M212.5 150.5v-6.4M213.5 150.6v3.4M215.5 150.9v-3.7M215.5 150.9v5.8M216.5 151.0v-5.6M217.5 151.0v-6.8M217.5 151.0v5.8M218.5 151.1v3.0M219.5 151.2v-6.0M219.5 151.2v3.2M220.5 151.2v-6.3M220.5 151.2v4.5M221.5 151.2v-4.3M221.5 151.2v3.1M222.5 151.2v-6.3M222.5 151.2v3.1M223.5 151.2v-4.1M223.5 151.2v4.7M224.5 151.2v-6.1M224.5 151.2v5.4M225.5 151.2v-4.2M225.5 151.2v3.6M226.5 151.2v-5.1M226.5 151.2v5.7M227.5 151.1v-4.7M227.5 151.1v2.7M228.5 151.1v-7.0M228.5 151.1v2.7M229.5 151.0v-3.4M229.5 151.0v3.2M230.5 150.9v-5.1M231.5 150.8v-6.7M231.5 150.8v4.3M232.5 150.7v-3.4M232.5 150.7v5.2M233.5 150.6v-3.4M233.5 150.6v5.5M234.5 150.4v-3.6M234.5 150.4v2.9M235.5 150.3v-6.2M235.5 150.3v3.4M236.5 150.1v-3.8M236.5 150.1v5.8M237.5 150.0v-5.3M237.5 150.0v4.6M238.5 149.8v-6.8M238.5 149.8v3.9M239.5 149.6v-4.4M239.5 149.6v3.7M240.5 149.4v-6.7M240.5 149.4v2.7M241.5 149.2v-3.8M242.5 148.9v-5.5M242.5 148.9v4.1M243.5 148.7v-4.5M243.5 148.7v2.9M244.5 148.5v-5.3M244.5 148.5v3.3M245.5 148.2v3.0M246.5 147.9v-6.5M246.5 147.9v5.3M247.5 147.7v-4.0M247.5 147.7v3.5M248.5 147.4v-3.6M248.5 147.4v4.7M249.5 147.1v-3.9M249.5 147.1v3.7M250.5 146.8v2.7M251.5 146.5v-6.0M251.5 146.5v3.3M252.5 146.1v4.3M253.5 145.8v-3.8M254.5 145.5v-4.0M254.5 145.5v3.7M255.5 145.1v-5.7M255.5 145.1v4.7M256.5 144.8v-4.3M256.5 144.8v3.1M257.5 144.4v3.3M258.5 144.0v-6.9M258.5 144.0v2.8M259.5 143.7v-4.3M259.5 143.7v5.2M260.5 143.3v-6.7M260.5 143.3v2.6M261.5 142.9v-6.6M261.5 142.9v3.7M262.5 142.5v-6.7M262.5 142.5v4.7M263.5 142.1v-5.0M263.5 142.1v3.3M265.5 141.3v-3.2M265.5 141.3v5.4M266.5 140.9v-4.2M266.5 140.9v4.4M268.5 140.0v-5.6M268.5 140.0v3.6M269.5 139.6v-6.0M269.5 139.6v4.0M270.5 139.1v-6.9M270.5 139.1v3.2M271.5 138.7v-5.3M272.5 138.2v-5.9M272.5 138.2v4.1M273.5 137.8v-6.1M273.5 137.8v2.7M274.5 137.3v-4.7M274.5 137.3v5.5M275.5 136.9v-6.4M275.5 136.9v3.8M276.5 136.4v5.7M277.5 135.9v-7.0M278.5 135.5v-6.3M279.5 135.0v-3.1M279.5 135.0v3.9M280.5 134.5v-6.8M281.5 134.1v-4.3M281.5 134.1v3.7M282.5 133.6v-5.9M282.5 133.6v4.5M283.5 133.1v3.8M284.5 132.6v-4.2M284.5 132.6v5.5M285.5 132.1v-7.0M286.5 131.7v-4.8M286.5 131.7v5.0M287.5 131.2v-3.8M287.5 131.2v3.6M288.5 130.7v-6.5M289.5 130.2v-3.9M289.5 130.2v3.2M290.5 129.7v-6.3M290.5 129.7v5.5M291.5 129.2v5.5M293.5 128.3v-6.3M293.5 128.3v2.9M294.5 127.8v3.4M295.5 127.3v-5.2M296.5 126.8v4.7M297.5 126.4v-3.2M297.5 126.4v3.1M298.5 125.9v-4.4M298.5 125.9v3.7M299.5 125.4v-5.9M299.5 125.4v4.5M300.5 124.9v3.2M301.5 124.5v-5.3M302.5 124.0v-6.6M302.5 124.0v2.7M303.5 123.5v-6.5M303.5 123.5v5.3M304.5 123.1v-5.9M304.5 123.1v4.7M305.5 122.6v-3.8M305.5 122.6v4.0M306.5 122.1v-3.4M307.5 121.7v-6.0M308.5 121.2v-4.1M308.5 121.2v2.7M309.5 120.8v-5.6M309.5 120.8v3.9M310.5 120.4v-6.5M310.5 120.4v5.7M312.5 119.5v-5.7M313.5 119.1v4.3M314.5 118.6v-5.7M314.5 118.6v3.4M315.5 118.2v-3.9M315.5 118.2v3.1M316.5 117.8v-5.6M316.5 117.8v3.8M317.5 117.4v-3.4M317.5 117.4v3.5M318.5 117.0v-6.2M318.5 117.0v4.8M319.5 116.6v-3.8M319.5 116.6v5.7M320.5 116.2v-6.4M320.5 116.2v5.7M321.5 115.8v4.5M322.5 115.4v-6.9M323.5 115.1v-6.6M324.5 114.7v5.1M325.5 114.3v-4.5M326.5 114.0v-6.3M326.5 114.0v4.0M327.5 113.7v-4.3M327.5 113.7v2.8M328.5 113.3v-4.7M329.5 113.0v-6.7M329.5 113.0v5.7M330.5 112.7v-6.8M330.5 112.7v5.0M331.5 112.4v-6.5M331.5 112.4v5.5M332.5 112.1v-6.2M333.5 111.8v-3.4M333.5 111.8v5.4M336.5 110.9v-5.6M336.5 110.9v4.9M337.5 110.7v3.5M338.5 110.4v-4.1M338.5 110.4v3.5M339.5 110.2v2.6M340.5 110.0v-4.8M341.5 109.7v-5.4M341.5 109.7v4.9M342.5 109.5v-3.7M343.5 109.3v-5.0M343.5 109.3v2.7M344.5 109.1v-3.5M344.5 109.1v5.8M345.5 108.9v-3.3M345.5 108.9v4.3M346.5 108.8v-4.0M346.5 108.8v3.7M347.5 108.6v5.7M348.5 108.5v-5.0M348.5 108.5v3.3M349.5 108.3v-5.1M349.5 108.3v4.7M350.5 108.2v3.4M351.5 108.1v5.5M352.5 108.0v-6.9M352.5 108.0v4.5M353.5 107.9v5.8M354.5 107.8v-6.2M354.5 107.8v4.2M355.5 107.8v-4.2M356.5 107.7v-6.6M356.5 107.7v2.7M357.5 107.7v-3.9M357.5 107.7v5.6M358.5 107.6v-5.4M358.5 107.6v3.1M359.5 107.6v-6.2M359.5 107.6v5.1M360.5 107.6v-3.3M360.5 107.6v5.0M362.5 107.6v-4.5M362.5 107.6v2.7M363.5 107.6v-5.4M363.5 107.6v5.9M364.5 107.7v-6.9M364.5 107.7v5.9M365.5 107.7v-3.2M365.5 107.7v5.1M366.5 107.8v5.8M367.5 107.9v-4.4M367.5 107.9v5.6M368.5 108.0v-4.1M368.5 108.0v3.5M371.5 108.3v-4.2M371.5 108.3v3.9M372.5 108.5v-6.2M372.5 108.5v4.0M373.5 108.6v-3.9M374.5 108.8v-6.1M374.5 108.8v5.1M375.5 108.9v3.5M376.5 109.1v-6.1M376.5 109.1v3.8M377.5 109.3v-3.3M377.5 109.3v4.1M378.5 109.6v5.7M379.5 109.8v-3.9M379.5 109.8v2.7M380.5 110.0v-6.8M380.5 110.0v4.6M381.5 110.3v4.0M382.5 110.5v3.5M383.5 110.8v-6.2M384.5 111.1v-5.9M384.5 111.1v4.7M385.5 111.4v-4.4M387.5 112.0v2.6M388.5 112.3v-6.8M388.5 112.3v5.0M389.5 112.7v-3.4M389.5 112.7v2.7M390.5 113.0v-3.3M390.5 113.0v5.6M391.5 113.4v-6.5M391.5 113.4v4.5M392.5 113.8v-6.7M392.5 113.8v4.8M393.5 114.2v-4.9M393.5 114.2v5.3M394.5 114.6v-5.3M394.5 114.6v2.9M395.5 115.0v2.7M396.5 115.4v-3.1M396.5 115.4v3.0M397.5 115.8v-6.6M397.5 115.8v5.4M398.5 116.2v-6.2M398.5 116.2v3.9M399.5 116.7v5.9M400.5 117.1v-5.9M400.5 117.1v3.6M401.5 117.6v-3.0M401.5 117.6v3.9M403.5 118.5v-6.6M403.5 118.5v5.0M404.5 119.0v-3.6M404.5 119.0v5.4M405.5 119.5v-4.1M405.5 119.5v3.8M406.5 120.0v3.7M407.5 120.5v-5.6M407.5 120.5v5.8M408.5 121.0v-4.7M408.5 121.0v4.9M410.5 122.0v-4.6M410.5 122.0v3.0M411.5 122.5v5.6M412.5 123.0v-5.9M412.5 123.0v5.4M413.5 123.6v-5.5M413.5 123.6v3.6M414.5 124.1v-5.6M414.5 124.1v5.7M415.5 124.6v-5.2M415.5 124.6v4.3M416.5 125.2v-6.7M417.5 125.7v-5.7M417.5 125.7v2.9M418.5 126.3v-3.7M418.5 126.3v4.1M419.5 126.8v-6.0M419.5 126.8v5.8M420.5 127.4v-3.3M420.5 127.4v5.3M421.5 127.9v-5.8M421.5 127.9v4.3M422.5 128.5v-6.1M423.5 129.0v-6.4M423.5 129.0v4.1M424.5 129.6v-3.6M424.5 129.6v4.9M425.5 130.1v-6.4M425.5 130.1v4.1M426.5 130.7v-3.7M426.5 130.7v5.4M427.5 131.3v-5.8M427.5 131.3v3.0M428.5 131.8v-4.7M430.5 132.9v-6.0M431.5 133.5v-5.0M432.5 134.0v-6.4M432.5 134.0v4.0M433.5 134.5v-6.3M433.5 134.5v5.3M434.5 135.1v3.7M436.5 136.1v-5.9M437.5 136.7v-4.6M437.5 136.7v3.8M438.5 137.2v-5.7M438.5 137.2v5.4M439.5 137.7v-6.4M440.5 138.2v-4.6M440.5 138.2v3.4M441.5 138.7v-3.5M442.5 139.2v-6.0M442.5 139.2v2.9M443.5 139.7v-5.0M443.5 139.7v5.4M444.5 140.2v-6.2M444.5 140.2v4.1M445.5 140.7v-3.6M445.5 140.7v5.1M446.5 141.2v-5.9M446.5 141.2v3.2M447.5 141.6v-3.2M448.5 142.1v-6.1M448.5 142.1v5.7M449.5 142.5v-5.9M449.5 142.5v2.9M450.5 143.0v4.9M451.5 143.4v-3.4M452.5 143.8v-3.3M452.5 143.8v4.0M453.5 144.2v-4.2M453.5 144.2v5.3M454.5 144.6v-4.7M454.5 144.6v3.4M455.5 145.0v-3.7M455.5 145.0v3.0M456.5 145.4v-4.0M457.5 145.8v-5.6M457.5 145.8v5.1M458.5 146.1v-4.3M459.5 146.5v-3.9M459.5 146.5v4.7M460.5 146.8v-4.0M461.5 147.1v-6.0M461.5 147.1v3.6M462.5 147.4v-6.4M463.5 147.8v4.1M464.5 148.0v-3.4M464.5 148.0v4.6M465.5 148.3v-6.2M465.5 148.3v4.7M466.5 148.6v-6.6M467.5 148.8v-4.7M467.5 148.8v3.3M468.5 149.1v5.0M469.5 149.3v-4.4M469.5 149.3v5.8M471.5 149.7v-4.5M472.5 149.9v-3.2M473.5 150.1v-6.7M473.5 150.1v4.6M474.5 150.3v-3.2M474.5 150.3v3.4M475.5 150.4v-6.5M475.5 150.4v2.9M477.5 150.7v-4.7M477.5 150.7v5.2M478.5 150.8v-4.7M478.5 150.8v3.6M479.5 150.9v-5.4M479.5 150.9v3.0M480.5 151.0v-4.4M480.5 151.0v4.1M481.5 151.1v-5.0M481.5 151.1v4.4M482.5 151.1v-5.7M482.5 151.1v5.8M483.5 151.2v-6.6M483.5 151.2v5.3M484.5 151.2v-5.1M484.5 151.2v4.2M485.5 151.2v-6.2M485.5 151.2v3.7M486.5 151.2v-3.8M486.5 151.2v3.4M487.5 151.2v-6.7M487.5 151.2v4.2M488.5 151.2v-5.4M488.5 151.2v2.7M489.5 151.2v-4.9M489.5 151.2v5.9M490.5 151.1v-3.1M490.5 151.1v4.7M491.5 151.1v-5.2M491.5 151.1v4.0M492.5 151.0v4.9M493.5 150.9v-3.0M493.5 150.9v4.8M494.5 150.9v-6.6M494.5 150.9v5.3M495.5 150.7v-4.3M495.5 150.7v4.4M496.5 150.6v5.4M497.5 150.5v3.0M498.5 150.4v-5.9M498.5 150.4v5.4M500.5 150.0v-2.5M500.5 150.0v3.0M502.5 149.7v-2.5M502.5 149.7v3.0M503.5 149.5v-2.5M504.5 149.3v-2.5M505.5 149.1v4.9M506.5 148.8v-2.5M506.5 148.8v3.7M507.5 148.6v-2.5M507.5 148.6v4.1M508.5 148.3v-2.5M509.5 148.1v-2.5M509.5 148.1v2.6M510.5 147.8v-2.5M511.5 147.5v4.0M512.5 147.2v-6.3M512.5 147.2v5.7M513.5 146.9v-4.5M513.5 146.9v4.6M514.5 146.6v-4.7M515.5 146.3v-3.5M515.5 146.3v4.4M516.5 146.0v-5.0M516.5 146.0v5.0M517.5 145.6v-6.3M517.5 145.6v4.2M518.5 145.3v-5.0M518.5 145.3v3.2M519.5 145.0v-3.3M519.5 145.0v3.1M520.5 144.6v-6.7M520.5 144.6v3.1M521.5 144.2v-5.1M521.5 144.2v4.0M522.5 143.9v-5.6M523.5 143.5v-4.7M523.5 143.5v5.9M524.5 143.1v-5.0M524.5 143.1v4.1M525.5 142.7v-4.9M526.5 142.3v-4.3M526.5 142.3v5.4M527.5 141.9v-3.0M528.5 141.5v-3.9M529.5 141.1v-6.8M529.5 141.1v4.2M530.5 140.6v4.8M531.5 140.2v-6.1M531.5 140.2v4.4M532.5 139.8v-5.9M532.5 139.8v2.8M533.5 139.3v-5.7M533.5 139.3v3.9M534.5 138.9v4.2M535.5 138.5v-4.4M535.5 138.5v5.9M536.5 138.0v3.1M537.5 137.6v-4.6M537.5 137.6v5.2M538.5 137.1v-5.5M538.5 137.1v2.9" stroke="#22a822" stroke-width="1" fill="none"/><polyline points="22,132.1 24,131.2 26,130.2 28,129.2 30,128.3 32,127.3 34,126.4 36,125.4 38,124.5 40,123.5 42,122.6 44,121.7 46,120.8 48,119.9 50,119.1 52,118.2 54,117.4 56,116.6 58,115.8 60,115.1 62,114.3 64,113.7 66,113 68,112.4 70,111.8 72,111.2 74,110.7 76,110.2 78,109.7 80,109.3 82,108.9 84,108.6 86,108.3 88,108.1 90,107.9 92,107.8 94,107.7 96,107.6 98,107.6 100,107.6 102,107.7 104,107.9 106,108.1 108,108.3 110,108.6 112,108.9 114,109.3 116,109.8 118,110.3 120,110.8 122,111.4 124,112 126,112.7 128,113.4 130,114.2 132,115 134,115.8 136,116.7 138,117.6 140,118.5 142,119.5 144,120.5 146,121.5 148,122.5 150,123.6 152,124.6 154,125.7 156,126.8 158,127.9 160,129 162,130.1 164,131.3 166,132.4 168,133.5 170,134.5 172,135.6 174,136.7 176,137.7 178,138.7 180,139.7 182,140.7 184,141.6 186,142.5 188,143.4 190,144.2 192,145 194,145.8 196,146.5 198,147.1 200,147.8 202,148.3 204,148.8 206,149.3 208,149.7 210,150.1 212,150.4 214,150.7 216,150.9 218,151.1 220,151.2 222,151.2 224,151.2 226,151.2 228,151.1 230,150.9 232,150.7 234,150.5 236,150.2 238,149.9 240,149.5 242,149.1 244,148.6 246,148.1 248,147.5 250,146.9 252,146.3 254,145.6 256,145 258,144.2 260,143.5 262,142.7 264,141.9 266,141.1 268,140.2 270,139.3 272,138.5 274,137.6 276,136.6 278,135.7 280,134.8 282,133.8 284,132.9 286,131.9 288,130.9 290,130 292,129 294,128 296,127.1 298,126.1 300,125.2 302,124.2 304,123.3 306,122.4 308,121.5 310,120.6 312,119.7 314,118.8 316,118 318,117.2 320,116.4 322,115.6 324,114.9 326,114.2 328,113.5 330,112.8 332,112.2 334,111.6 336,111.1 338,110.5 340,110.1 342,109.6 344,109.2 346,108.9 348,108.5 350,108.3 352,108 354,107.9 356,107.7 358,107.6 360,107.6 362,107.6 364,107.7 366,107.8 368,107.9 370,108.1 372,108.4 374,108.7 376,109 378,109.4 380,109.9 382,110.4 384,110.9 386,111.5 388,112.2 390,112.9 392,113.6 394,114.4 396,115.2 398,116 400,116.9 402,117.8 404,118.7 406,119.7 408,120.7 410,121.7 412,122.8 414,123.8 416,124.9 418,126 420,127.1 422,128.2 424,129.3 426,130.4 428,131.5 430,132.6 432,133.7 434,134.8 436,135.9 438,136.9 440,138 442,139 444,140 446,140.9 448,141.8 450,142.7 452,143.6 454,144.4 456,145.2 458,145.9 460,146.6 462,147.3 464,147.9 466,148.5 468,149 470,149.4 472,149.8 474,150.2 476,150.5 478,150.8 480,151 482,151.1 484,151.2 486,151.2 488,151.2 490,151.2 492,151.1 494,150.9 496,150.7 498,150.4 500,150.1 502,149.8 504,149.4 506,148.9 508,148.5 510,147.9 512,147.4 514,146.8 516,146.1 518,145.5 520,144.8 522,144 524,143.3 526,142.5 528,141.7 530,140.9 532,140 534,139.1 536,138.2 538,137.3" stroke="#22d822" stroke-opacity="0.3" stroke-width="6.2" fill="none"/><polyline points="22,132.1 24,131.2 26,130.2 28,129.2 30,128.3 32,127.3 34,126.4 36,125.4 38,124.5 40,123.5 42,122.6 44,121.7 46,120.8 48,119.9 50,119.1 52,118.2 54,117.4 56,116.6 58,115.8 60,115.1 62,114.3 64,113.7 66,113 68,112.4 70,111.8 72,111.2 74,110.7 76,110.2 78,109.7 80,109.3 82,108.9 84,108.6 86,108.3 88,108.1 90,107.9 92,107.8 94,107.7 96,107.6 98,107.6 100,107.6 102,107.7 104,107.9 106,108.1 108,108.3 110,108.6 112,108.9 114,109.3 116,109.8 118,110.3 120,110.8 122,111.4 124,112 126,112.7 128,113.4 130,114.2 132,115 134,115.8 136,116.7 138,117.6 140,118.5 142,119.5 144,120.5 146,121.5 148,122.5 150,123.6 152,124.6 154,125.7 156,126.8 158,127.9 160,129 162,130.1 164,131.3 166,132.4 168,133.5 170,134.5 172,135.6 174,136.7 176,137.7 178,138.7 180,139.7 182,140.7 184,141.6 186,142.5 188,143.4 190,144.2 192,145 194,145.8 196,146.5 198,147.1 200,147.8 202,148.3 204,148.8 206,149.3 208,149.7 210,150.1 212,150.4 214,150.7 216,150.9 218,151.1 220,151.2 222,151.2 224,151.2 226,151.2 228,151.1 230,150.9 232,150.7 234,150.5 236,150.2 238,149.9 240,149.5 242,149.1 244,148.6 246,148.1 248,147.5 250,146.9 252,146.3 254,145.6 256,145 258,144.2 260,143.5 262,142.7 264,141.9 266,141.1 268,140.2 270,139.3 272,138.5 274,137.6 276,136.6 278,135.7 280,134.8 282,133.8 284,132.9 286,131.9 288,130.9 290,130 292,129 294,128 296,127.1 298,126.1 300,125.2 302,124.2 304,123.3 306,122.4 308,121.5 310,120.6 312,119.7 314,118.8 316,118 318,117.2 320,116.4 322,115.6 324,114.9 326,114.2 328,113.5 330,112.8 332,112.2 334,111.6 336,111.1 338,110.5 340,110.1 342,109.6 344,109.2 346,108.9 348,108.5 350,108.3 352,108 354,107.9 356,107.7 358,107.6 360,107.6 362,107.6 364,107.7 366,107.8 368,107.9 370,108.1 372,108.4 374,108.7 376,109 378,109.4 380,109.9 382,110.4 384,110.9 386,111.5 388,112.2 390,112.9 392,113.6 394,114.4 396,115.2 398,116 400,116.9 402,117.8 404,118.7 406,119.7 408,120.7 410,121.7 412,122.8 414,123.8 416,124.9 418,126 420,127.1 422,128.2 424,129.3 426,130.4 428,131.5 430,132.6 432,133.7 434,134.8 436,135.9 438,136.9 440,138 442,139 444,140 446,140.9 448,141.8 450,142.7 452,143.6 454,144.4 456,145.2 458,145.9 460,146.6 462,147.3 464,147.9 466,148.5 468,149 470,149.4 472,149.8 474,150.2 476,150.5 478,150.8 480,151 482,151.1 484,151.2 486,151.2 488,151.2 490,151.2 492,151.1 494,150.9 496,150.7 498,150.4 500,150.1 502,149.8 504,149.4 506,148.9 508,148.5 510,147.9 512,147.4 514,146.8 516,146.1 518,145.5 520,144.8 522,144 524,143.3 526,142.5 528,141.7 530,140.9 532,140 534,139.1 536,138.2 538,137.3" stroke="#1cff1c" stroke-width="4.1" fill="none"/><path d="M280.6 8.0V235.5M278.6 8.0h4M278.6 14.3h4M278.6 20.6h4M278.6 26.9h4M278.6 33.2h4M278.6 39.6h4M278.6 45.9h4M278.6 52.2h4M278.6 58.5h4M278.6 64.8h4M278.6 71.1h4M278.6 77.4h4M278.6 83.7h4M278.6 90.0h4M278.6 96.3h4M278.6 102.7h4M278.6 109.0h4M278.6 115.3h4M278.6 121.6h4M278.6 127.9h4M278.6 134.2h4M278.6 140.5h4M278.6 146.8h4M278.6 153.1h4M278.6 159.4h4M278.6 165.8h4M278.6 172.1h4M278.6 178.4h4M278.6 184.7h4M278.6 191.0h4M278.6 197.3h4M278.6 203.6h4M278.6 209.9h4M278.6 216.2h4M278.6 222.5h4M278.6 228.9h4M278.6 235.2h4" stroke="#3a3a3a" stroke-opacity="0.6" stroke-width="0.9" fill="none"/><path d="M21.5 134.2H539.8" stroke="#111" stroke-width="1"/><path d="M21.5 95V150M539.8 95V150" stroke="#3c3c3c" stroke-width="1.1" stroke-opacity="0.8"/><path d="M8.3 22.2H17l3.5 4.1-3.5 4.1H8.3z" fill="#7c7c7c" stroke="#35d2d2" stroke-width="1"/><text x="11" y="29.6" font-family="Liberation Sans,sans-serif" font-size="9.5" font-weight="bold" fill="#3ee0e0">2</text><path d="M8.5 121.6h8" stroke="#4a4ad0" stroke-width="1"/><path d="M7.5 123.4H17l3.5 4.2-3.5 4.2H7.5z" fill="#9ad89a" stroke="#8ccf8c" stroke-width="0.8"/><text x="10.3" y="131" font-family="Liberation Sans,sans-serif" font-size="9.5" fill="#5a5a5a">4</text><path d="M277.8 7.2H283.8L280.8 11.6z" fill="#f0a028"/><path d="M28.9 124V290" stroke="#000" stroke-width="2" stroke-dasharray="9 5.7" fill="none"/><path d="M111.2 124V238" stroke="#000" stroke-width="2" stroke-dasharray="9 5.7" fill="none"/><path d="M159 124V290" stroke="#000" stroke-width="2" stroke-dasharray="9 5.7" fill="none"/><path d="M242.8 124V238" stroke="#000" stroke-width="2" stroke-dasharray="9 5.7" fill="none"/><path d="M291.4 124V290" stroke="#000" stroke-width="2" stroke-dasharray="9 5.7" fill="none"/><path d="M29 230.5H291" stroke="#555" stroke-width="1" fill="none"/><path d="M29.1 230.5L37.1 226.7L35.3 230.5L37.1 234.3z" fill="#000"/><path d="M111.0 230.5L103.0 226.7L104.8 230.5L103.0 234.3z" fill="#000"/><path d="M111.4 230.5L119.4 226.7L117.6 230.5L119.4 234.3z" fill="#000"/><path d="M158.8 230.5L150.8 226.7L152.6 230.5L150.8 234.3z" fill="#000"/><path d="M159.2 230.5L167.2 226.7L165.4 230.5L167.2 234.3z" fill="#000"/><path d="M242.6 230.5L234.6 226.7L236.4 230.5L234.6 234.3z" fill="#000"/><path d="M243.0 230.5L251.0 226.7L249.2 230.5L251.0 234.3z" fill="#000"/><path d="M291.2 230.5L283.2 226.7L285.0 230.5L283.2 234.3z" fill="#000"/><path d="M36 270.8H58M126 270.8H152M166 270.8H192M261 270.8H285" stroke="#555" stroke-width="1.2" fill="none"/><path d="M29.2 270.8L37.2 267.0L35.4 270.8L37.2 274.6z" fill="#000"/><path d="M158.7 270.8L150.7 267.0L152.5 270.8L150.7 274.6z" fill="#000"/><path d="M159.3 270.8L167.3 267.0L165.5 270.8L167.3 274.6z" fill="#000"/><path d="M291.1 270.8L283.1 267.0L284.9 270.8L283.1 274.6z" fill="#000"/><path d="M151.5 66.3L171.2 77.4" stroke="#2e2e2e" stroke-width="2.2"/><path d="M179.9 82.3L168.1 79.8L171.6 73.5z" fill="#2e2e2e"/><path d="M271.5 69.0L294.4 82.0" stroke="#2e2e2e" stroke-width="2.2"/><path d="M303.1 86.9L291.3 84.4L294.9 78.1z" fill="#2e2e2e"/><path d="M427.0 57.4L449.6 44.9" stroke="#2e2e2e" stroke-width="2.2"/><path d="M458.3 40.0L450.0 48.7L446.5 42.4z" fill="#2e2e2e"/><path d="M405.6 170.2L416.9 150.9" stroke="#2e2e2e" stroke-width="2.2"/><path d="M421.9 142.3L419.2 154.0L413.0 150.4z" fill="#2e2e2e"/><text class="b" x="86.4" y="65.0" font-size="16.5" textLength="35.9" lengthAdjust="spacingAndGlyphs">CH1:</text><text class="b" x="123.0" y="65.0" font-size="16.5" font-style="italic" textLength="5.3" lengthAdjust="spacingAndGlyphs">i</text><text class="b" x="128.3" y="67.3" font-size="11" textLength="9.3" lengthAdjust="spacingAndGlyphs">sa</text><text class="b" x="138.4" y="65.0" font-size="16.5" textLength="64.8" lengthAdjust="spacingAndGlyphs">(10A/div)</text><text class="b" x="226.4" y="64.6" font-size="16.5" textLength="35.4" lengthAdjust="spacingAndGlyphs">CH3:</text><text class="b" x="262.5" y="64.6" font-size="16.5" font-style="italic" textLength="5.3" lengthAdjust="spacingAndGlyphs">i</text><text class="b" x="268.3" y="66.89999999999999" font-size="11" textLength="8.8" lengthAdjust="spacingAndGlyphs">sc</text><text class="b" x="277.7" y="64.6" font-size="16.5" textLength="64.8" lengthAdjust="spacingAndGlyphs">(10A/div)</text><text class="b" x="355.4" y="71.8" font-size="16.5" textLength="35.4" lengthAdjust="spacingAndGlyphs">CH2:</text><text class="b" x="390.8" y="71.8" font-size="16.5" font-style="italic" textLength="8.9" lengthAdjust="spacingAndGlyphs">u</text><text class="b" x="401.0" y="74.1" font-size="11" textLength="10.8" lengthAdjust="spacingAndGlyphs">sa</text><text class="b" x="412.6" y="71.8" font-size="16.5" textLength="80.8" lengthAdjust="spacingAndGlyphs">(1000V/div)</text><text class="b" x="359.6" y="187.2" font-size="16.5" textLength="38.1" lengthAdjust="spacingAndGlyphs">CH4:</text><text class="b" x="397.4" y="187.2" font-size="16.5" font-style="italic" textLength="8.9" lengthAdjust="spacingAndGlyphs">u</text><text class="b" x="406.9" y="189.5" font-size="11" textLength="3.8" lengthAdjust="spacingAndGlyphs">s</text><text class="b" x="411.5" y="187.2" font-size="16.5" textLength="64.8" lengthAdjust="spacingAndGlyphs">(10V/div)</text><text class="r" x="50.6" y="225.4" font-size="15.5" textLength="34.4" lengthAdjust="spacingAndGlyphs">1.62s</text><text class="r" x="117.8" y="225.4" font-size="15.5" textLength="34.7" lengthAdjust="spacingAndGlyphs">0.88s</text><text class="r" x="187.4" y="225.4" font-size="15.5" textLength="34.0" lengthAdjust="spacingAndGlyphs">1.62s</text><text class="r" x="250.3" y="225.4" font-size="15.5" textLength="34.7" lengthAdjust="spacingAndGlyphs">0.88s</text><text class="r" x="45.5" y="247.6" font-size="13.2" textLength="50.7" lengthAdjust="spacingAndGlyphs">rectifying</text><text class="r" x="112.1" y="247.6" font-size="13.2" textLength="44.2" lengthAdjust="spacingAndGlyphs">inverting</text><text class="r" x="178.3" y="247.8" font-size="13.2" textLength="50.7" lengthAdjust="spacingAndGlyphs">rectifying</text><text class="r" x="244.9" y="248.2" font-size="13.2" textLength="44.7" lengthAdjust="spacingAndGlyphs">inverting</text><text class="r" x="72.2" y="267.7" font-size="15.7" textLength="39.9" lengthAdjust="spacingAndGlyphs">Motor</text><text class="r" x="67.7" y="286.8" font-size="15.7" textLength="50.8" lengthAdjust="spacingAndGlyphs">forward</text><text class="r" x="205.6" y="267.7" font-size="15.7" textLength="40.6" lengthAdjust="spacingAndGlyphs">Motor</text><text class="r" x="201.0" y="286.8" font-size="15.7" textLength="48.8" lengthAdjust="spacingAndGlyphs">reversal</text><text class="r" x="466.3" y="276.5" font-size="15.2" textLength="55.2" lengthAdjust="spacingAndGlyphs">t(1s/div)</text></svg></body></html>
